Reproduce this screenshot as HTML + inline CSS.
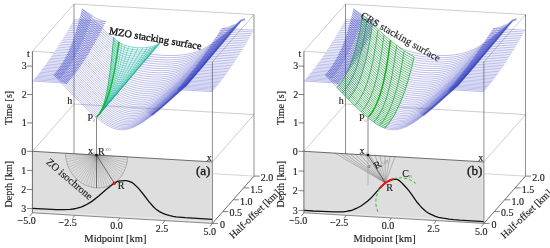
<!DOCTYPE html>
<html><head><meta charset="utf-8"><style>html,body{margin:0;padding:0;background:#fff;overflow:hidden;}svg{display:block;}</style></head>
<body>
<svg width="550" height="248" viewBox="0 0 550 248" font-family="Liberation Serif, serif">
<style>text{stroke:#1a1a1a;stroke-width:0.15px;paint-order:stroke} text.s{stroke:none}</style>
<rect width="550" height="248" fill="#fff"/>
<g stroke="#9a9a9a" stroke-width="0.5" fill="none">
<line x1="32.4" y1="51.3" x2="74.0" y2="4.0" />
<line x1="74.0" y1="4.0" x2="254.0" y2="14.6" />
<line x1="32.4" y1="51.3" x2="54.1" y2="52.6" />
<line x1="254.0" y1="14.6" x2="212.4" y2="61.9" />
<line x1="32.4" y1="151.3" x2="74.0" y2="104.0" />
<line x1="74.0" y1="104.0" x2="254.0" y2="114.6" />
<line x1="254.0" y1="114.6" x2="212.4" y2="161.9" />
</g>
<g stroke="#5e5e5e" stroke-width="0.7" fill="none">
<line x1="74.0" y1="4.0" x2="74.0" y2="153.9" />
<line x1="254.0" y1="14.6" x2="254.0" y2="176.1" />
<line x1="212.4" y1="61.9" x2="212.4" y2="161.9" />
</g>
<g stroke="#3a42c2" stroke-width="0.34" fill="none" stroke-linejoin="round">
<polyline points="32.5,81.0 58.4,82.6 63.8,83.1 67.1,83.5 64.1,82.3 60.7,80.4 57.2,77.9 53.7,74.9 73.3,95.3 81.5,103.7 89.7,111.5 97.0,117.9 100.4,120.6 103.7,123.0 107.0,125.1 109.8,126.6 112.5,127.9 115.3,128.8 118.0,129.5 120.7,129.8 123.2,129.8 126.0,129.5 128.5,128.9 131.4,128.0 134.4,126.8 137.3,125.3 140.4,123.6 143.8,121.4 150.9,116.3 159.1,109.6 166.9,102.8 186.6,85.2 184.2,86.9 181.5,88.4 179.1,89.5 176.9,90.1 180.4,90.0 186.1,90.1 212.3,91.6" />
<polyline points="33.5,79.8 59.4,81.4 64.9,81.9 68.2,82.3 65.2,81.2 61.8,79.2 58.2,76.7 54.7,73.7 74.3,94.1 82.5,102.5 90.7,110.3 98.0,116.7 101.4,119.4 104.7,121.8 108.0,123.9 110.8,125.4 113.6,126.7 116.3,127.6 119.0,128.3 121.7,128.6 124.2,128.6 127.1,128.3 129.6,127.7 132.5,126.8 135.4,125.6 138.4,124.1 141.4,122.4 144.9,120.2 151.9,115.1 160.2,108.4 168.0,101.6 187.7,84.0 185.2,85.7 182.6,87.2 180.1,88.3 178.0,88.9 181.5,88.8 187.2,88.9 213.4,90.4" />
<polyline points="34.6,78.6 60.5,80.2 65.9,80.7 69.2,81.1 66.3,80.0 62.8,78.0 59.2,75.5 55.7,72.5 75.3,92.9 83.5,101.2 91.7,109.1 99.0,115.5 102.4,118.1 105.7,120.5 109.0,122.6 111.8,124.2 114.6,125.4 117.3,126.4 120.1,127.0 122.8,127.3 125.2,127.3 128.1,127.0 130.6,126.5 133.6,125.6 136.5,124.3 139.5,122.9 142.5,121.1 146.0,118.9 153.0,113.8 161.3,107.1 169.1,100.3 188.7,82.8 186.3,84.5 183.6,86.0 181.2,87.1 179.0,87.7 182.5,87.6 188.2,87.7 214.4,89.2" />
<polyline points="35.6,77.4 61.5,79.0 67.0,79.4 70.2,79.9 67.3,78.7 63.8,76.8 60.2,74.2 56.7,71.2 76.3,91.6 84.5,99.9 92.7,107.8 100.0,114.2 103.3,116.8 106.7,119.2 110.0,121.3 112.8,122.8 115.6,124.1 118.3,125.0 121.1,125.7 123.8,126.0 126.3,126.0 129.2,125.7 131.7,125.2 134.7,124.2 137.6,123.0 140.6,121.6 143.6,119.8 147.1,117.6 154.1,112.5 162.4,105.8 170.2,99.1 189.8,81.6 187.3,83.3 184.7,84.8 182.2,85.9 180.1,86.5 183.6,86.3 189.3,86.5 215.4,88.0" />
<polyline points="36.6,76.1 62.5,77.7 68.0,78.2 71.2,78.6 68.3,77.5 64.8,75.5 61.2,73.0 57.7,69.9 77.2,90.3 85.4,98.6 93.6,106.4 100.9,112.8 104.3,115.4 107.6,117.8 110.9,119.9 113.7,121.5 116.5,122.7 119.3,123.7 122.1,124.3 124.9,124.6 127.4,124.6 130.3,124.3 132.8,123.8 135.8,122.9 138.7,121.7 141.7,120.2 144.8,118.5 148.3,116.3 155.3,111.2 163.5,104.5 171.3,97.8 190.9,80.3 188.4,82.0 185.8,83.5 183.3,84.6 181.1,85.2 184.6,85.1 190.3,85.3 216.5,86.7" />
<polyline points="37.7,74.9 63.6,76.4 69.0,76.9 72.3,77.4 69.3,76.2 65.8,74.2 62.2,71.7 58.6,68.6 78.2,88.9 86.3,97.2 95.0,105.5 102.3,111.8 105.6,114.4 109.0,116.7 112.3,118.8 115.1,120.3 118.0,121.5 120.8,122.4 123.6,123.0 125.9,123.2 128.4,123.2 131.4,122.9 133.9,122.4 136.9,121.5 139.9,120.3 142.9,118.8 146.0,117.1 149.4,114.9 156.5,109.8 164.7,103.2 172.5,96.4 192.0,79.0 189.6,80.7 186.9,82.2 184.4,83.3 182.2,83.9 185.6,83.8 191.3,84.0 217.5,85.4" />
<polyline points="38.7,73.6 64.6,75.1 70.1,75.6 73.3,76.1 70.3,74.9 66.8,72.9 63.1,70.3 59.6,67.3 78.6,87.1 87.2,95.8 95.9,104.0 103.1,110.3 106.5,112.9 109.9,115.3 113.2,117.3 116.1,118.8 118.9,120.0 121.7,120.9 124.6,121.5 126.9,121.8 129.5,121.8 132.5,121.5 135.1,120.9 138.1,120.0 141.1,118.8 144.1,117.3 147.2,115.6 150.7,113.4 157.7,108.4 165.9,101.8 173.7,95.1 193.2,77.7 190.7,79.4 188.0,80.9 185.5,82.0 183.3,82.7 186.7,82.5 192.4,82.7 218.6,84.2" />
<polyline points="39.8,72.3 65.7,73.8 71.1,74.3 74.3,74.8 71.2,73.6 67.7,71.6 64.1,69.0 60.5,65.9 79.5,85.7 88.1,94.4 96.7,102.6 104.0,108.8 107.3,111.4 110.7,113.8 114.1,115.8 116.9,117.3 119.8,118.5 122.7,119.4 125.6,120.0 128.0,120.3 130.6,120.3 133.6,120.0 136.2,119.4 139.3,118.5 142.3,117.3 145.4,115.8 148.4,114.1 151.9,111.9 158.9,106.9 167.1,100.3 174.9,93.6 194.3,76.4 191.8,78.1 189.1,79.6 186.6,80.7 184.3,81.3 187.7,81.2 193.4,81.4 219.6,82.8" />
<polyline points="40.8,70.9 66.7,72.5 72.0,73.0 75.3,73.4 72.2,72.2 68.7,70.2 65.0,67.6 61.4,64.5 80.3,84.2 88.9,92.9 97.5,101.0 104.8,107.3 108.1,109.8 111.5,112.2 114.9,114.2 117.8,115.7 120.7,116.9 123.6,117.9 126.6,118.5 129.0,118.7 131.7,118.7 134.8,118.4 137.4,117.9 140.5,117.0 143.6,115.8 146.6,114.3 149.7,112.6 153.2,110.4 160.2,105.4 168.4,98.9 176.1,92.2 195.5,75.0 193.0,76.8 190.3,78.3 187.7,79.4 185.4,80.0 188.8,79.9 194.5,80.1 220.6,81.5" />
<polyline points="41.8,69.6 67.6,71.2 73.1,71.6 76.3,72.1 73.2,70.9 69.6,68.8 65.9,66.2 62.3,63.1 81.2,82.7 89.7,91.3 98.3,99.5 105.5,105.7 108.9,108.2 112.3,110.6 115.7,112.6 118.6,114.1 121.6,115.3 124.6,116.3 127.6,116.9 130.1,117.1 132.8,117.1 135.9,116.8 138.6,116.3 141.7,115.4 144.8,114.2 147.9,112.7 151.0,111.0 154.5,108.9 161.5,103.9 169.7,97.3 177.4,90.7 196.7,73.6 194.1,75.4 191.4,76.9 188.8,78.0 186.5,78.7 189.9,78.6 195.6,78.7 221.7,80.2" />
<polyline points="42.9,68.2 68.6,69.8 74.1,70.3 77.3,70.7 74.1,69.5 70.5,67.4 66.8,64.8 63.1,61.7 81.9,81.2 90.4,89.8 99.0,97.8 106.3,104.0 109.7,106.6 113.1,108.9 116.5,111.0 119.5,112.4 122.5,113.7 125.5,114.6 128.6,115.2 131.1,115.5 133.9,115.5 137.1,115.2 139.8,114.7 143.0,113.8 146.1,112.6 149.2,111.1 152.3,109.4 155.8,107.3 162.8,102.3 171.0,95.8 178.7,89.2 197.9,72.2 195.3,74.0 192.6,75.5 189.9,76.7 187.6,77.3 191.0,77.2 196.7,77.4 222.7,78.8" />
<polyline points="43.9,66.8 69.7,68.4 75.0,68.9 78.3,69.3 75.1,68.1 71.4,66.0 67.7,63.4 64.0,60.2 82.7,79.6 91.2,88.2 99.7,96.2 107.0,102.3 110.4,104.9 113.8,107.2 117.3,109.3 120.3,110.8 123.3,112.0 126.4,112.9 129.5,113.6 132.2,113.8 135.0,113.8 138.3,113.5 141.1,113.0 144.3,112.1 147.4,110.9 150.6,109.4 153.7,107.8 157.2,105.6 164.2,100.7 172.3,94.2 180.4,87.4 199.2,70.7 196.5,72.6 193.7,74.1 191.0,75.3 188.6,75.9 192.0,75.8 197.7,76.0 223.8,77.4" />
<polyline points="45.0,65.4 70.7,67.0 76.1,67.5 79.3,67.9 77.7,67.4 76.0,66.6 72.3,64.6 68.5,61.9 64.8,58.7 83.5,78.0 91.9,86.5 100.4,94.5 107.7,100.6 111.1,103.2 114.5,105.5 118.0,107.5 121.0,109.0 124.1,110.3 127.3,111.2 130.5,111.8 133.2,112.1 136.1,112.1 139.5,111.8 142.3,111.3 145.6,110.4 148.8,109.2 151.9,107.7 155.0,106.1 158.6,103.9 165.6,99.1 173.7,92.6 181.7,85.8 200.4,69.3 197.7,71.1 194.9,72.7 192.1,73.9 189.7,74.5 193.2,74.4 198.9,74.6 224.8,76.0" />
<polyline points="46.0,64.0 71.6,65.6 77.0,66.0 80.3,66.5 77.0,65.2 73.3,63.2 69.4,60.4 65.6,57.2 84.2,76.4 92.6,84.8 101.1,92.8 108.3,98.8 111.7,101.4 115.2,103.7 118.7,105.7 121.8,107.2 124.9,108.5 128.2,109.4 131.5,110.1 134.2,110.4 137.2,110.4 140.2,110.2 143.1,109.7 146.4,108.8 149.7,107.6 152.9,106.2 156.0,104.6 159.5,102.5 166.5,97.7 175.1,91.0 183.1,84.2 201.7,67.8 199.0,69.7 196.1,71.2 193.3,72.4 190.8,73.1 194.2,73.0 199.9,73.2 225.8,74.6" />
<polyline points="47.0,62.6 72.7,64.1 78.0,64.6 81.3,65.0 79.7,64.5 77.9,63.8 74.2,61.7 70.2,58.9 66.4,55.7 84.9,74.8 93.7,83.6 102.2,91.5 106.1,94.7 109.4,97.4 112.9,99.9 116.4,102.2 119.4,103.9 122.5,105.4 125.7,106.7 129.0,107.6 132.4,108.3 135.3,108.6 138.4,108.6 141.4,108.4 144.4,107.9 147.8,107.0 151.1,105.9 154.3,104.5 157.4,102.8 161.0,100.8 164.5,98.5 168.0,96.0 176.5,89.3 184.4,82.6 203.0,66.3 200.2,68.2 197.2,69.8 194.4,71.0 191.9,71.6 195.4,71.5 201.0,71.7 226.9,73.2" />
<polyline points="48.1,61.1 73.7,62.7 79.1,63.1 82.3,63.6 80.7,63.1 78.8,62.3 75.0,60.2 71.0,57.4 67.2,54.1 85.6,73.1 94.4,81.8 102.8,89.7 106.7,92.9 110.1,95.6 113.5,98.1 117.0,100.3 120.1,102.1 123.2,103.6 126.5,104.8 129.9,105.8 133.4,106.5 136.3,106.8 139.5,106.8 142.6,106.6 145.7,106.1 149.1,105.2 152.5,104.1 155.7,102.7 158.9,101.1 162.4,99.0 166.0,96.7 169.4,94.2 177.9,87.6 185.8,80.9 204.3,64.8 201.5,66.7 198.4,68.3 195.6,69.5 193.0,70.2 196.4,70.1 202.1,70.3 227.9,71.7" />
<polyline points="49.1,59.6 74.6,61.2 80.0,61.6 83.2,62.1 81.6,61.6 79.8,60.8 75.9,58.7 71.8,55.9 67.9,52.6 86.2,71.4 95.0,80.1 103.4,87.8 107.3,91.1 110.7,93.7 114.1,96.2 117.6,98.5 121.2,100.5 124.5,101.9 127.8,103.2 130.7,104.0 134.3,104.6 137.4,104.9 140.6,105.0 143.9,104.7 147.0,104.3 150.5,103.4 153.9,102.2 157.2,100.8 160.4,99.2 163.9,97.2 167.4,94.9 170.9,92.5 179.4,85.9 187.3,79.2 205.6,63.2 202.7,65.2 199.7,66.8 196.8,68.0 194.2,68.7 197.6,68.6 203.2,68.8 229.0,70.2" />
<polyline points="50.2,58.2 75.7,59.7 81.0,60.1 84.2,60.6 82.6,60.1 80.7,59.3 76.7,57.1 72.6,54.3 68.7,50.9 86.9,69.6 95.6,78.3 104.0,86.0 107.8,89.2 111.2,91.8 114.7,94.3 118.2,96.6 121.9,98.5 125.2,100.0 128.6,101.3 131.6,102.1 135.3,102.8 138.4,103.1 141.8,103.1 145.1,102.9 148.3,102.4 151.9,101.5 155.3,100.4 158.6,99.0 161.8,97.4 165.4,95.3 168.9,93.1 172.4,90.7 180.8,84.2 188.7,77.5 206.9,61.6 204.0,63.6 200.9,65.3 197.9,66.5 195.3,67.2 198.6,67.1 204.3,67.3 230.0,68.7" />
<polyline points="51.2,56.6 76.7,58.2 82.0,58.6 85.2,59.0 83.5,58.5 81.6,57.7 77.5,55.5 73.4,52.7 69.4,49.3 87.5,67.9 96.2,76.4 104.6,84.1 108.4,87.3 111.8,89.9 115.2,92.4 118.8,94.6 122.5,96.6 125.8,98.1 129.3,99.3 132.4,100.2 136.2,100.9 139.5,101.2 142.9,101.2 146.4,101.0 149.6,100.5 152.8,99.8 156.3,98.7 159.7,97.3 162.9,95.8 166.5,93.8 170.0,91.5 173.5,89.2 181.9,82.7 190.2,75.8 208.2,60.0 205.3,62.0 202.2,63.7 199.1,65.0 196.4,65.7 199.8,65.6 205.4,65.8 231.0,67.2" />
<polyline points="52.2,55.1 77.6,56.7 83.0,57.1 86.2,57.5 84.4,57.0 82.5,56.2 78.3,54.0 74.2,51.1 70.1,47.7 88.1,66.1 96.7,74.6 101.3,78.9 105.6,82.6 109.4,85.7 112.8,88.3 116.3,90.8 119.9,93.0 123.1,94.6 126.5,96.1 130.1,97.4 133.2,98.2 137.1,98.9 140.5,99.2 144.1,99.3 147.6,99.1 151.0,98.6 154.2,97.9 157.8,96.8 161.2,95.4 164.4,93.9 168.1,91.9 171.6,89.7 175.0,87.3 183.4,80.9 191.6,74.1 209.6,58.4 206.6,60.5 203.4,62.2 200.3,63.5 197.5,64.2 200.8,64.1 206.4,64.3 232.1,65.7" />
<polyline points="53.3,53.6 78.6,55.1 83.9,55.5 87.1,56.0 85.4,55.4 83.4,54.6 79.3,52.4 74.9,49.4 70.8,46.0 88.3,63.8 97.3,72.7 101.9,77.0 106.1,80.7 109.9,83.8 113.3,86.4 116.8,88.8 120.4,91.0 123.7,92.7 127.1,94.2 130.8,95.4 134.0,96.3 138.1,97.0 141.5,97.3 145.3,97.4 148.9,97.1 152.4,96.7 155.6,95.9 159.3,94.8 162.7,93.5 166.0,91.9 169.6,90.0 173.1,87.8 176.6,85.4 180.4,82.6 185.0,79.1 193.1,72.3 211.0,56.8 207.9,58.9 204.6,60.7 201.4,61.9 198.6,62.6 202.0,62.5 207.6,62.7 233.1,64.2" />
<polyline points="54.3,52.0 79.6,53.6 84.9,54.0 88.1,54.4 86.3,53.9 84.3,53.0 80.1,50.8 75.7,47.8 71.5,44.3 88.8,62.0 97.8,70.8 102.4,75.0 106.6,78.7 110.4,81.8 113.8,84.4 117.3,86.8 120.9,89.0 124.2,90.6 127.7,92.1 131.5,93.4 134.8,94.3 139.0,95.0 142.6,95.3 146.4,95.4 150.2,95.2 153.7,94.7 157.1,94.0 160.8,92.9 164.2,91.5 167.6,90.0 171.2,88.0 174.7,85.9 178.2,83.5 182.0,80.8 186.5,77.3 195.0,70.2 212.4,55.1 209.3,57.2 205.9,59.1 202.6,60.4 199.7,61.0 203.1,61.0 208.6,61.2 234.2,62.6" />
<polyline points="55.4,50.4 80.6,52.0 85.9,52.4 89.1,52.8 87.2,52.2 85.1,51.4 80.9,49.2 76.4,46.1 72.2,42.6 89.4,60.1 98.3,68.9 102.9,73.1 107.1,76.7 110.9,79.8 114.3,82.4 117.8,84.7 121.5,86.9 124.8,88.6 128.3,90.1 132.2,91.4 135.6,92.3 139.9,93.0 143.6,93.4 147.6,93.4 151.5,93.2 155.1,92.7 158.6,92.0 161.8,91.1 165.3,89.8 168.7,88.3 172.3,86.3 175.9,84.2 179.3,81.9 183.1,79.2 187.7,75.7 196.2,68.7 213.8,53.5 210.6,55.6 207.2,57.4 203.9,58.8 200.9,59.5 204.2,59.4 209.8,59.6 235.2,61.0" />
<polyline points="56.4,48.8 81.5,50.4 86.9,50.8 90.0,51.2 88.2,50.7 86.1,49.8 83.9,48.8 81.6,47.5 77.1,44.4 72.8,40.9 90.3,58.6 99.3,67.3 103.8,71.5 108.0,75.1 111.8,78.2 115.2,80.7 118.8,83.0 122.5,85.2 125.9,86.8 129.5,88.3 133.5,89.5 137.1,90.4 140.8,91.0 144.7,91.3 148.1,91.4 152.1,91.3 155.9,90.8 159.5,90.1 163.3,89.1 166.9,87.8 170.3,86.3 173.9,84.4 177.5,82.3 180.9,80.0 184.7,77.3 189.3,73.8 197.7,66.9 215.2,51.8 212.0,54.0 208.5,55.8 205.1,57.1 202.0,57.9 205.4,57.8 211.0,58.0 236.2,59.4" />
<polyline points="57.4,47.2 82.5,48.8 87.8,49.2 91.0,49.6 89.1,49.0 86.9,48.2 84.6,47.1 82.4,45.8 77.8,42.7 73.4,39.1 90.9,56.7 99.8,65.4 104.3,69.5 108.4,73.1 112.3,76.1 115.7,78.6 119.2,80.9 123.0,83.1 126.4,84.7 130.1,86.2 134.2,87.5 137.8,88.3 141.7,89.0 145.7,89.3 149.3,89.4 153.4,89.3 157.3,88.8 161.0,88.1 164.9,87.1 168.5,85.8 171.9,84.3 175.6,82.4 179.1,80.3 182.6,78.0 186.4,75.3 190.9,71.9 199.3,65.0 216.7,50.1 213.3,52.3 209.8,54.2 206.3,55.5 203.1,56.3 206.5,56.2 212.0,56.4 237.3,57.8" />
<polyline points="58.5,45.6 83.5,47.1 88.7,47.6 91.9,47.9 90.0,47.4 87.9,46.6 85.6,45.5 83.3,44.2 78.6,41.1 74.1,37.3 91.4,54.8 100.2,63.4 104.7,67.5 108.9,71.0 112.7,74.0 116.1,76.5 119.7,78.9 123.5,81.0 126.9,82.7 130.7,84.1 134.8,85.4 138.6,86.3 142.6,86.9 146.8,87.3 150.5,87.4 154.8,87.2 158.8,86.8 162.5,86.1 165.9,85.2 169.6,84.0 173.0,82.5 176.7,80.6 180.3,78.6 184.2,76.1 188.0,73.4 192.5,70.0 200.9,63.1 218.1,48.3 214.6,50.7 211.0,52.6 207.4,53.9 204.3,54.6 207.6,54.6 213.2,54.8 238.3,56.2" />
<polyline points="59.5,44.0 84.5,45.5 89.7,45.9 92.9,46.3 91.0,45.7 88.7,44.9 86.3,43.8 84.0,42.5 79.3,39.3 74.7,35.5 91.9,52.9 101.1,61.8 105.6,65.8 109.8,69.4 113.6,72.3 117.0,74.8 120.6,77.1 124.5,79.2 128.0,80.8 131.9,82.3 135.5,83.3 139.4,84.2 143.5,84.8 147.8,85.2 151.6,85.3 156.1,85.2 160.2,84.7 164.0,84.1 167.5,83.2 171.2,81.9 174.7,80.5 178.4,78.6 182.0,76.6 185.9,74.1 189.6,71.4 194.1,68.0 202.8,61.0 219.6,46.6 216.1,48.9 212.3,50.9 208.7,52.3 205.4,53.0 208.7,53.0 214.2,53.1 239.4,54.6" />
<polyline points="60.6,42.3 85.4,43.8 93.8,44.6 91.8,44.1 89.5,43.2 87.1,42.1 84.8,40.8 80.0,37.6 77.5,35.7 75.3,33.7 92.3,50.9 101.5,59.8 106.0,63.8 110.2,67.3 114.0,70.2 117.4,72.7 121.1,74.9 124.9,77.0 128.5,78.7 132.5,80.2 136.1,81.2 140.1,82.1 144.4,82.8 148.9,83.2 152.8,83.3 157.4,83.1 161.6,82.7 165.5,82.0 169.0,81.1 172.8,79.9 176.3,78.4 180.1,76.6 183.6,74.5 187.5,72.1 191.3,69.4 195.7,66.1 204.4,59.1 221.0,44.8 217.5,47.2 213.7,49.2 209.9,50.6 206.5,51.3 209.9,51.3 215.4,51.5 240.4,52.9" />
<polyline points="61.6,40.7 86.4,42.2 94.8,42.9 92.7,42.4 90.3,41.5 87.9,40.3 85.5,39.0 80.6,35.8 78.1,33.9 75.9,31.9 92.8,48.9 102.0,57.7 106.4,61.7 110.6,65.2 114.4,68.1 117.8,70.5 121.5,72.8 125.4,74.9 129.0,76.6 133.0,78.0 136.7,79.1 140.8,80.0 145.3,80.7 149.9,81.1 154.0,81.2 158.8,81.1 162.4,80.7 166.4,80.1 170.1,79.2 173.9,78.0 177.5,76.6 181.3,74.8 184.9,72.8 188.8,70.3 192.5,67.7 197.0,64.4 205.7,57.4 222.5,43.1 219.0,45.4 215.0,47.5 211.1,48.9 207.7,49.7 211.0,49.6 216.5,49.8 241.4,51.2" />
<polyline points="62.6,39.0 87.3,40.5 95.7,41.2 93.6,40.7 91.2,39.8 88.8,38.6 86.2,37.2 83.7,35.7 81.1,33.9 76.4,30.0 93.3,46.9 102.4,55.7 106.8,59.6 111.0,63.1 114.8,66.0 118.2,68.4 121.9,70.7 125.8,72.8 129.5,74.4 133.6,75.9 137.4,77.0 141.6,77.9 146.1,78.6 151.0,79.0 155.2,79.1 160.1,79.0 163.9,78.6 168.0,78.0 171.7,77.1 175.6,75.9 179.1,74.5 183.0,72.7 186.6,70.7 190.5,68.3 194.2,65.7 198.7,62.4 207.3,55.5 224.0,41.3 220.3,43.8 216.3,45.8 212.4,47.2 208.8,48.0 212.1,48.0 217.6,48.2 242.5,49.6" />
<polyline points="63.7,37.3 88.4,38.8 96.7,39.5 94.6,39.0 92.2,38.1 89.7,37.0 87.0,35.6 84.5,34.0 81.9,32.2 79.4,30.2 77.0,28.2 93.7,44.9 102.8,53.6 107.2,57.5 111.4,60.9 115.1,63.8 119.1,66.6 122.8,68.8 126.8,70.9 130.6,72.5 134.1,73.7 138.0,74.8 142.3,75.7 147.0,76.4 152.0,76.9 156.4,77.0 161.5,76.9 165.3,76.5 169.5,75.9 173.3,75.0 177.2,73.8 180.8,72.4 184.7,70.6 188.3,68.6 192.2,66.2 195.9,63.7 200.3,60.4 208.9,53.6 225.6,39.5 221.7,42.0 217.6,44.0 213.6,45.5 210.0,46.3 213.3,46.3 218.8,46.5 243.5,47.9" />
<polyline points="64.7,35.6 89.3,37.1 97.6,37.8 95.4,37.2 92.9,36.3 90.4,35.2 87.7,33.8 85.2,32.2 82.5,30.4 79.9,28.4 77.5,26.3 94.1,42.9 103.2,51.5 107.6,55.4 111.7,58.8 115.5,61.7 119.5,64.4 123.2,66.6 127.2,68.7 131.0,70.3 134.6,71.6 138.5,72.7 143.0,73.6 147.9,74.3 153.0,74.8 157.6,74.9 162.8,74.8 166.8,74.4 171.1,73.8 174.9,72.9 178.9,71.7 182.5,70.3 186.4,68.5 190.0,66.6 193.9,64.2 197.6,61.7 202.0,58.4 210.6,51.6 227.1,37.6 223.2,40.2 219.0,42.3 214.9,43.8 212.9,44.3 211.1,44.6 214.4,44.5 219.8,44.8 244.6,46.2" />
<polyline points="65.8,33.8 90.2,35.3 98.6,36.1 96.3,35.5 93.7,34.5 91.1,33.4 88.4,31.9 85.8,30.4 83.1,28.5 80.5,26.5 78.1,24.4 94.5,40.9 103.6,49.4 108.0,53.3 112.1,56.7 115.9,59.5 119.8,62.2 123.6,64.5 127.6,66.5 131.5,68.1 135.1,69.4 139.1,70.5 143.7,71.4 148.7,72.2 154.1,72.6 158.8,72.8 163.4,72.7 167.5,72.4 172.0,71.8 175.9,71.0 180.0,69.8 183.7,68.4 187.6,66.7 191.3,64.7 195.2,62.4 198.9,59.9 203.3,56.7 212.2,49.6 228.6,35.8 224.6,38.4 220.4,40.5 216.2,42.0 214.1,42.5 212.3,42.8 215.6,42.8 221.0,43.0 245.6,44.4" />
<polyline points="66.8,32.1 91.2,33.6 99.5,34.3 97.2,33.7 94.5,32.7 91.8,31.6 89.1,30.1 86.4,28.5 83.7,26.7 81.1,24.6 78.6,22.5 95.0,38.8 104.4,47.7 108.8,51.5 112.9,54.9 116.7,57.7 120.7,60.4 124.5,62.6 128.6,64.6 132.6,66.2 136.3,67.4 140.6,68.5 145.4,69.4 150.7,70.1 155.1,70.5 160.1,70.6 164.7,70.6 169.0,70.3 173.5,69.7 177.5,68.8 181.7,67.7 185.4,66.3 189.3,64.6 193.0,62.6 196.9,60.3 200.6,57.8 205.0,54.7 213.9,47.6 230.2,34.0 226.1,36.6 221.7,38.8 217.4,40.3 215.3,40.8 213.4,41.1 222.2,41.3 246.6,42.7" />
<polyline points="67.8,30.4 92.1,31.8 100.5,32.6 98.1,32.0 95.4,31.0 92.7,29.8 89.9,28.4 87.0,26.7 84.3,24.8 81.6,22.7 79.1,20.6 95.4,36.7 104.7,45.5 109.1,49.4 113.2,52.7 117.0,55.5 121.1,58.2 124.8,60.4 129.0,62.4 133.0,64.0 136.8,65.2 141.2,66.3 146.1,67.3 151.6,68.0 156.2,68.3 161.3,68.5 166.1,68.4 170.5,68.1 175.1,67.5 179.2,66.7 183.4,65.5 187.1,64.2 191.1,62.5 194.7,60.5 198.6,58.2 202.4,55.8 206.7,52.6 215.6,45.6 231.7,32.1 227.6,34.8 223.1,37.0 218.6,38.6 216.5,39.1 214.6,39.3 223.2,39.6 247.7,40.9" />
<polyline points="68.9,28.6 93.2,30.1 101.4,30.8 98.9,30.2 96.1,29.2 93.4,28.0 90.6,26.5 87.7,24.8 84.9,22.9 82.1,20.7 79.6,18.6 95.8,34.7 105.1,43.4 109.5,47.2 113.6,50.5 117.4,53.3 121.4,56.0 125.2,58.1 129.4,60.2 133.4,61.8 137.3,63.0 141.7,64.1 146.8,65.1 152.5,65.8 157.2,66.2 162.5,66.4 167.5,66.3 172.0,66.0 176.7,65.4 180.9,64.6 184.5,63.6 188.3,62.3 192.3,60.6 196.0,58.7 199.9,56.4 204.1,53.7 208.5,50.5 217.3,43.6 233.3,30.2 229.1,33.0 224.5,35.2 222.2,36.1 219.9,36.8 217.6,37.3 215.7,37.6 224.4,37.8 248.7,39.2" />
<polyline points="69.9,26.8 94.1,28.3 102.3,29.0 99.9,28.4 97.0,27.4 94.1,26.1 91.2,24.7 88.3,22.9 85.4,21.0 82.6,18.8 80.1,16.7 96.5,32.9 105.9,41.6 110.2,45.4 114.4,48.7 118.2,51.4 122.2,54.1 126.1,56.2 130.4,58.2 134.6,59.8 138.6,61.0 143.3,62.1 147.5,62.9 153.3,63.6 158.3,64.0 163.7,64.2 168.9,64.1 173.5,63.8 178.3,63.2 182.5,62.4 186.2,61.4 190.1,60.1 194.1,58.4 197.8,56.6 201.7,54.3 205.8,51.6 210.2,48.5 219.0,41.6 234.9,28.3 230.6,31.1 225.9,33.4 223.6,34.3 221.2,35.0 218.9,35.5 216.9,35.8 225.6,36.0 249.8,37.4" />
<polyline points="71.0,25.0 95.0,26.5 103.3,27.2 100.7,26.6 97.8,25.6 94.8,24.3 91.9,22.8 88.8,21.0 86.0,19.1 83.1,16.9 80.6,14.7 96.9,30.8 106.2,39.5 110.6,43.2 114.7,46.5 118.5,49.2 122.6,51.8 126.4,54.0 130.8,56.0 135.0,57.6 139.1,58.8 143.8,59.9 148.2,60.7 154.2,61.4 159.3,61.8 165.0,62.0 170.3,62.0 175.0,61.7 179.9,61.1 184.2,60.3 187.9,59.3 191.8,58.0 195.8,56.3 199.5,54.4 203.4,52.2 207.6,49.5 211.9,46.4 220.7,39.6 236.5,26.4 234.4,27.9 232.1,29.2 229.6,30.5 227.2,31.6 224.9,32.5 222.4,33.2 220.1,33.7 218.0,34.0 226.6,34.2 250.8,35.6" />
<polyline points="72.0,23.2 96.0,24.7 104.2,25.4 101.6,24.7 98.7,23.8 95.6,22.5 92.7,21.0 89.6,19.2 86.7,17.3 83.8,15.0 81.1,12.8 97.3,28.7 106.5,37.3 110.9,41.0 115.0,44.3 118.8,47.0 122.9,49.6 126.8,51.7 131.1,53.7 135.4,55.3 139.6,56.6 144.4,57.7 148.8,58.5 155.1,59.3 160.4,59.7 166.2,59.9 171.7,59.8 176.5,59.5 180.8,59.0 185.2,58.2 189.1,57.3 193.0,56.0 197.1,54.4 200.8,52.5 204.8,50.3 208.9,47.6 213.3,44.6 222.4,37.5 238.1,24.5 236.0,26.0 233.6,27.4 231.1,28.7 228.7,29.8 226.3,30.6 223.8,31.4 221.4,31.9 219.2,32.2 227.8,32.4 251.8,33.8" />
<polyline points="73.0,21.4 96.9,22.9 105.1,23.5 102.4,22.9 99.4,21.9 96.3,20.6 93.3,19.1 90.2,17.3 87.3,15.3 84.3,13.1 81.5,10.8 97.6,26.6 106.8,35.1 111.2,38.8 115.3,42.0 119.1,44.8 123.2,47.4 127.1,49.5 131.5,51.5 135.8,53.1 140.0,54.3 144.9,55.5 149.5,56.3 155.9,57.1 161.4,57.5 167.5,57.7 173.1,57.6 178.0,57.3 182.4,56.9 186.9,56.1 190.8,55.1 194.8,53.8 198.9,52.2 202.6,50.4 206.6,48.2 210.7,45.5 215.1,42.5 224.1,35.5 239.7,22.6 237.5,24.1 235.1,25.5 232.6,26.8 230.1,27.9 227.5,28.9 225.0,29.6 222.6,30.1 220.3,30.4 228.9,30.6 252.9,32.0" />
<polyline points="74.1,19.6 97.9,21.0 106.1,21.7 103.2,21.0 100.1,20.0 97.0,18.7 93.9,17.2 90.8,15.3 87.8,13.4 84.8,11.1 82.0,8.8 98.0,24.4 107.6,33.3 111.9,37.0 116.0,40.2 119.9,42.9 124.0,45.4 128.0,47.5 131.8,49.2 136.2,50.8 140.5,52.1 145.5,53.2 150.2,54.0 156.8,54.9 162.5,55.3 168.7,55.5 174.5,55.5 179.6,55.2 184.0,54.7 188.6,53.9 192.5,53.0 196.5,51.7 200.6,50.0 204.4,48.2 208.3,46.0 212.5,43.4 216.8,40.4 225.8,33.4 241.3,20.7 239.1,22.2 236.5,23.7 234.0,25.0 231.4,26.1 228.8,27.0 226.2,27.8 223.7,28.3 221.5,28.6 230.0,28.8 253.9,30.2" />
</g>
<polyline points="152.2,115.2 157.4,111.0 163.7,105.6 186.6,85.2 203.0,66.3 228.6,35.8" stroke="#3a4cc4" stroke-width="9" fill="none" stroke-opacity="0.10" stroke-linecap="butt" transform="translate(-4.2,-1.6)"/>
<polyline points="152.2,115.2 157.4,111.0 163.7,105.6 186.6,85.2 205.6,63.2 236.5,26.4" stroke="#3a4cc4" stroke-width="5" fill="none" stroke-opacity="0.14" stroke-linecap="butt" transform="translate(-2.2,-0.8)"/>
<polyline points="152.2,115.2 157.4,111.0 163.7,105.6 186.6,85.2 206.9,61.6 241.3,20.7 245.5,19.3" stroke="#2b3db8" stroke-width="2.0" fill="none" stroke-opacity="0.5" stroke-linecap="butt" transform="translate(-0.4,-0.2)"/>
<polygon points="53.7,74.9 54.7,73.7 55.7,72.5 56.7,71.2 57.7,69.9 58.6,68.6 59.6,67.3 60.5,65.9 61.4,64.5 62.3,63.1 63.1,61.7 64.0,60.2 64.8,58.7 65.6,57.2 66.4,55.7 67.2,54.1 67.9,52.6 68.7,50.9 69.4,49.3 70.1,47.7 70.8,46.0 71.5,44.3 72.2,42.6 72.8,40.9 73.4,39.1 74.1,37.3 74.7,35.5 75.3,33.7 75.9,31.9 76.4,30.0 77.0,28.2 77.5,26.3 78.1,24.4 78.6,22.5 79.1,20.6 79.6,18.6 80.1,16.7 80.6,14.7 81.1,12.8 81.5,10.8 82.0,8.8 92.8,14.6 92.2,16.5 91.5,18.4 90.8,20.3 90.1,22.2 89.4,24.1 88.7,26.0 88.0,27.8 87.3,29.7 86.6,31.5 85.9,33.3 85.1,35.1 84.4,36.9 83.6,38.6 82.9,40.4 82.1,42.1 81.3,43.8 80.6,45.5 79.8,47.2 79.0,48.8 78.2,50.5 77.3,52.1 76.5,53.7 75.7,55.3 74.8,56.8 74.0,58.4 73.1,59.9 72.2,61.4 71.3,62.9 70.4,64.3 69.5,65.7 68.6,67.2 67.6,68.5 66.7,69.9 65.7,71.2 64.8,72.6 63.8,73.8 62.8,75.1 61.8,76.4 60.8,77.6 59.7,78.8" fill="#2b3db8" fill-opacity="0.16" stroke="none"/>
<polygon points="96.5,117.5 98.1,115.5 99.6,113.2 102.1,108.2 103.2,105.5 104.7,101.0 106.6,93.1 108.5,83.0 110.3,70.6 111.9,55.9 113.7,37.2 114.9,38.7 117.5,41.1 120.0,42.9 123.7,44.8 127.5,46.1 131.2,46.9 135.0,47.5 138.7,47.8 143.7,47.8 147.5,47.5 151.2,46.8 153.7,46.1 156.2,45.0 158.7,43.6 161.2,41.5 162.5,40.1 117.0,93.8 96.5,117.5" fill="#fff" stroke="none"/>
<g stroke="#12a8a6" stroke-width="0.5" fill="none">
<polyline points="97.5,116.3 97.6,116.3" />
<polyline points="98.5,115.0 98.7,115.0" />
<polyline points="99.4,113.6 99.6,113.8 99.9,113.7" />
<polyline points="100.2,112.2 100.6,112.5 101.1,112.3" />
<polyline points="101.0,110.7 101.3,111.0 101.7,111.2 102.0,111.1 102.4,110.8" />
<polyline points="101.8,109.1 102.3,109.6 102.8,109.8 103.3,109.6 103.7,109.2" />
<polyline points="102.5,107.5 103.1,108.1 103.7,108.4 104.4,108.2 105.1,107.6" />
<polyline points="103.1,105.8 104.0,106.6 104.9,106.9 105.7,106.7 106.5,106.0" />
<polyline points="103.7,104.0 104.8,105.1 105.9,105.4 106.5,105.4 107.0,105.1 108.0,104.3" />
<polyline points="104.3,102.2 105.5,103.4 106.2,103.8 106.8,103.9 107.5,103.9 108.2,103.6 108.8,103.2 109.5,102.5" />
<polyline points="104.9,100.4 105.6,101.3 106.4,101.9 107.2,102.2 108.0,102.4 108.8,102.3 109.6,102.0 110.4,101.4 111.0,100.7" />
<polyline points="105.4,98.5 106.3,99.5 107.2,100.2 108.1,100.6 109.1,100.8 110.0,100.7 110.9,100.3 111.8,99.7 112.6,98.9" />
<polyline points="105.9,96.5 106.7,97.5 107.8,98.4 108.8,98.9 109.9,99.2 111.2,99.1 112.3,98.7 113.3,97.9 114.2,97.0" />
<polyline points="106.3,94.6 107.3,95.7 108.5,96.7 109.7,97.3 110.9,97.5 112.4,97.4 113.6,97.0 114.8,96.1 115.8,95.1" />
<polyline points="106.7,92.6 107.8,93.8 109.2,94.9 110.6,95.6 112.0,95.9 113.6,95.8 115.0,95.3 116.4,94.3 117.4,93.2" />
<polyline points="107.2,90.5 108.4,91.9 109.9,93.1 111.5,93.9 113.3,94.2 114.8,94.1 116.4,93.5 117.9,92.5 119.1,91.2" />
<polyline points="107.6,88.5 108.9,90.0 110.6,91.3 112.3,92.1 114.3,92.5 116.0,92.3 117.7,91.8 119.4,90.6 120.8,89.2" />
<polyline points="107.9,86.4 109.4,88.1 111.3,89.5 113.2,90.4 115.0,90.7 117.3,90.6 119.1,90.0 121.0,88.8 122.5,87.2" />
<polyline points="108.3,84.3 109.9,86.1 112.0,87.7 114.0,88.6 116.1,89.0 117.3,89.0 118.5,88.8 120.6,88.2 122.6,86.9 124.2,85.2" />
<polyline points="108.6,82.1 110.4,84.1 112.6,85.8 114.9,86.7 116.2,87.1 117.5,87.2 119.7,87.0 122.0,86.3 123.3,85.6 124.2,85.0 126.0,83.2" />
<polyline points="109.0,80.0 110.9,82.2 111.8,83.0 113.3,83.9 115.7,84.9 117.1,85.2 118.6,85.4 120.0,85.3 121.5,85.1 123.9,84.3 125.8,83.0 127.7,81.1" />
<polyline points="109.3,77.8 111.3,80.1 112.4,81.0 113.9,82.0 116.5,83.0 118.1,83.4 119.6,83.5 121.2,83.5 122.7,83.3 125.3,82.4 127.4,81.1 128.4,80.2 129.5,79.0" />
<polyline points="109.6,75.7 110.7,77.0 111.8,78.1 114.0,79.7 115.1,80.3 116.8,81.0 118.5,81.4 120.1,81.7 121.8,81.7 123.5,81.5 126.3,80.7 127.9,79.9 129.0,79.1 130.1,78.2 131.3,76.9" />
<polyline points="109.9,73.5 111.1,74.9 112.3,76.1 113.4,77.0 115.2,78.1 116.4,78.7 118.2,79.3 120.0,79.6 121.8,79.8 123.5,79.8 125.3,79.5 127.1,79.1 128.3,78.6 130.7,77.2 131.9,76.1 133.0,74.8" />
<polyline points="110.2,71.3 111.4,72.8 112.7,74.0 114.0,75.0 115.9,76.1 117.1,76.7 119.0,77.4 120.9,77.7 122.8,77.9 124.7,77.9 126.6,77.7 128.5,77.2 129.8,76.7 131.0,76.0 132.3,75.2 133.6,74.1 134.8,72.7" />
<polyline points="110.4,69.1 111.8,70.7 113.1,72.0 114.5,73.0 116.5,74.2 117.8,74.8 119.8,75.4 121.9,75.8 123.9,76.0 125.9,76.0 127.9,75.7 129.9,75.2 131.3,74.7 132.6,74.1 133.9,73.2 135.3,72.1 136.6,70.6" />
<polyline points="110.7,66.8 112.1,68.5 113.6,69.9 115.0,71.0 117.1,72.2 118.5,72.8 120.7,73.5 122.8,73.9 124.9,74.1 127.1,74.1 129.2,73.8 131.3,73.3 132.8,72.8 134.2,72.1 135.6,71.2 137.0,70.0 138.4,68.5" />
<polyline points="111.0,64.6 112.5,66.4 114.0,67.8 115.5,68.9 117.0,69.8 118.5,70.5 120.7,71.3 123.0,71.8 125.2,72.1 127.5,72.2 129.7,72.0 132.0,71.6 134.3,70.8 135.8,70.1 137.3,69.2 138.8,67.9 140.3,66.3" />
<polyline points="111.2,62.3 112.8,64.2 114.4,65.7 116.0,66.8 117.6,67.8 119.9,68.8 122.3,69.5 124.7,70.0 127.1,70.2 129.4,70.2 131.8,69.9 134.2,69.4 135.8,68.8 137.3,68.1 138.9,67.1 140.5,65.9 142.1,64.2" />
<polyline points="111.5,60.1 113.1,62.1 114.8,63.6 116.5,64.8 118.1,65.7 119.8,66.5 122.3,67.3 124.8,67.9 127.3,68.2 129.8,68.2 132.3,68.1 134.8,67.6 137.3,66.9 138.9,66.1 140.6,65.1 142.3,63.8 143.9,62.0" />
<polyline points="111.7,57.8 113.5,59.9 115.2,61.5 117.0,62.7 118.7,63.7 120.4,64.4 123.1,65.3 125.7,65.9 128.3,66.2 130.9,66.3 133.5,66.1 136.2,65.6 138.8,64.9 140.5,64.1 142.3,63.1 144.0,61.7 145.8,59.8" />
<polyline points="112.0,55.6 113.8,57.7 115.6,59.3 117.4,60.6 119.3,61.6 122.0,62.7 124.8,63.5 127.5,64.0 130.2,64.2 133.0,64.2 135.7,64.0 138.5,63.4 140.3,62.8 142.1,62.1 143.9,61.0 145.8,59.6 147.6,57.7" />
<polyline points="112.2,53.3 114.1,55.5 116.0,57.2 117.9,58.5 119.8,59.5 121.7,60.3 124.6,61.2 127.5,61.8 130.3,62.2 133.2,62.3 136.1,62.1 138.9,61.6 141.8,60.8 143.7,60.0 145.6,58.9 147.5,57.5 149.5,55.5" />
<polyline points="112.4,51.0 114.4,53.3 116.4,55.1 118.4,56.4 120.4,57.5 123.4,58.6 126.4,59.4 129.4,59.9 132.4,60.2 135.3,60.2 138.3,60.0 141.3,59.4 143.3,58.8 145.3,58.0 147.3,56.9 149.3,55.4 151.3,53.3" />
<polyline points="112.6,48.7 114.7,51.1 116.8,52.9 118.9,54.3 120.9,55.4 124.1,56.6 127.2,57.4 130.3,57.9 133.4,58.2 136.5,58.2 139.7,57.9 142.8,57.4 144.8,56.8 146.9,55.9 149.0,54.8 151.1,53.3 153.2,51.1" />
<polyline points="112.9,46.4 115.0,48.9 117.2,50.8 119.3,52.2 121.5,53.3 123.7,54.1 126.9,55.1 130.2,55.7 133.4,56.0 136.6,56.2 139.9,56.0 143.1,55.6 146.4,54.7 148.5,53.9 150.7,52.7 152.9,51.1 155.0,48.9" />
<polyline points="113.1,44.1 115.3,46.7 117.6,48.6 119.8,50.0 122.1,51.1 125.4,52.4 128.8,53.2 132.2,53.8 135.5,54.0 138.9,54.1 142.3,53.8 145.7,53.3 147.9,52.7 150.1,51.8 152.4,50.6 154.6,49.0 156.9,46.7" />
<polyline points="113.3,41.8 114.4,43.3 116.8,45.5 119.1,47.2 122.6,49.0 126.1,50.3 129.6,51.1 133.1,51.7 136.6,52.0 140.1,52.0 143.6,51.8 147.1,51.2 150.6,50.2 152.9,49.2 155.3,47.8 157.6,45.8 158.8,44.5" />
<polyline points="113.5,39.5 114.7,41.0 117.1,43.3 119.5,45.1 122.0,46.4 124.4,47.4 128.0,48.5 131.6,49.3 136.5,49.8 140.1,50.0 143.7,49.8 147.3,49.4 151.0,48.5 154.6,47.1 157.0,45.7 159.4,43.6 160.6,42.3" />
<polyline points="113.7,37.2 114.9,38.7 117.5,41.1 120.0,42.9 123.7,44.8 127.5,46.1 131.2,46.9 135.0,47.5 138.7,47.8 143.7,47.8 147.5,47.5 151.2,46.8 153.7,46.1 156.2,45.0 158.7,43.6 161.2,41.5 162.5,40.1" />
</g>
<g stroke="#17b096" stroke-width="0.45" fill="none">
<polyline points="96.5,117.5 116.9,93.8 161.4,41.3" />
<polyline points="96.5,117.5 114.3,96.8 160.1,42.5" />
<polyline points="96.5,117.5 111.8,99.6 158.5,43.7" />
<polyline points="96.5,117.5 102.6,110.4 110.5,101.0 156.6,44.9" />
<polyline points="96.5,117.5 102.5,110.5 110.1,101.2 154.2,45.9" />
<polyline points="96.5,117.5 103.2,109.6 111.4,99.1 151.2,46.8" />
<polyline points="96.5,117.5 103.9,108.6 112.6,97.1 122.0,83.9 147.5,47.5" />
<polyline points="96.5,117.5 100.8,112.4 105.2,106.7 109.7,100.4 114.3,93.7 125.4,76.4 143.0,47.8" />
<polyline points="96.5,117.5 100.7,112.4 105.7,105.7 109.9,99.4 114.8,91.4 119.8,82.8 125.4,72.5 131.8,60.4 138.1,47.8" />
<polyline points="96.5,117.5 100.7,112.4 105.4,105.7 110.0,98.2 114.5,90.1 118.8,81.4 123.6,70.9 128.2,60.0 133.2,47.3" />
<polyline points="96.5,117.5 100.6,112.4 102.6,109.6 105.2,105.6 109.5,98.0 113.5,89.8 117.2,81.0 121.2,70.4 124.9,59.3 128.7,46.4" />
<polyline points="96.5,117.5 98.6,115.0 100.6,112.4 102.5,109.5 105.0,105.5 106.7,102.3 108.9,97.8 112.5,89.4 115.7,80.5 119.1,69.7 122.0,58.4 125.0,45.3" />
<polyline points="96.5,117.5 98.6,115.0 100.5,112.3 102.4,109.5 104.7,105.4 107.9,98.7 109.3,95.2 111.2,90.2 114.0,81.1 116.9,70.2 119.6,57.3 122.0,44.0" />
<polyline points="96.5,117.5 98.6,115.0 100.5,112.3 102.3,109.4 104.0,106.3 105.5,103.0 107.0,99.6 108.3,96.0 110.0,91.0 112.5,81.8 115.0,70.7 117.4,57.6 119.6,42.7" />
<polyline points="96.5,117.5 97.9,115.9 99.8,113.2 101.6,110.3 103.2,107.2 104.7,103.9 106.1,100.4 107.4,96.8 108.9,91.7 111.2,82.4 113.4,71.1 115.5,57.9 117.7,41.3" />
<polyline points="96.5,117.5 97.9,115.9 99.8,113.2 101.5,110.2 103.1,107.0 104.5,103.7 105.8,100.1 108.0,92.5 110.1,83.0 112.1,71.6 114.2,56.7 116.1,39.9" />
<polyline points="96.5,117.5 97.9,115.8 99.8,113.1 100.9,111.1 102.4,108.0 103.8,104.6 105.1,101.0 107.2,93.3 109.1,83.6 111.2,70.6 113.0,55.5 114.8,38.6" />
</g>
<g stroke="#18b040" stroke-width="0.8" fill="none">
<polyline points="96.5,117.5 97.9,115.8 99.7,113.1 100.8,111.1 102.3,107.8 103.6,104.3 104.8,100.6 106.7,92.7 108.5,82.8 110.2,71.1 111.9,55.9 113.7,37.2" />
</g>
<g stroke="#10b820" stroke-width="1.3" fill="none">
<polyline points="96.5,117.5 98.6,115.0 100.5,112.3 102.2,109.3 103.9,106.2 105.4,102.9 106.8,99.5 108.1,95.8 109.7,90.8 112.1,81.5 114.5,70.3 116.7,57.2 118.9,42.2" />
</g>
<polygon points="32.4,151.3 212.4,161.9 212.4,223.4 32.4,212.8" fill="#dedede" stroke="none"/>
<line x1="32.4" y1="211.2" x2="212.4" y2="221.8" stroke="#ececec" stroke-width="0.9"/>
<line x1="211.1" y1="162.4" x2="211.1" y2="221.4" stroke="#ececec" stroke-width="0.8"/>
<g stroke="#8c8c8c" stroke-width="0.38" fill="none">
<line x1="96.5" y1="155.1" x2="65.5" y2="153.3" />
<line x1="96.5" y1="155.1" x2="65.7" y2="156.1" />
<line x1="96.5" y1="155.1" x2="66.0" y2="159.0" />
<line x1="96.5" y1="155.1" x2="66.6" y2="161.8" />
<line x1="96.5" y1="155.1" x2="67.4" y2="164.6" />
<line x1="96.5" y1="155.1" x2="68.4" y2="167.3" />
<line x1="96.5" y1="155.1" x2="69.7" y2="169.9" />
<line x1="96.5" y1="155.1" x2="71.1" y2="172.4" />
<line x1="96.5" y1="155.1" x2="72.8" y2="174.8" />
<line x1="96.5" y1="155.1" x2="74.6" y2="177.0" />
<line x1="96.5" y1="155.1" x2="76.6" y2="179.1" />
<line x1="96.5" y1="155.1" x2="78.7" y2="180.9" />
<line x1="96.5" y1="155.1" x2="81.0" y2="182.6" />
<line x1="96.5" y1="155.1" x2="83.4" y2="184.1" />
<line x1="96.5" y1="155.1" x2="85.9" y2="185.3" />
<line x1="96.5" y1="155.1" x2="88.5" y2="186.3" />
<line x1="96.5" y1="155.1" x2="91.1" y2="187.1" />
<line x1="96.5" y1="155.1" x2="93.8" y2="187.6" />
<line x1="96.5" y1="155.1" x2="96.5" y2="187.9" />
<line x1="96.5" y1="155.1" x2="99.2" y2="188.0" />
<line x1="96.5" y1="155.1" x2="101.9" y2="187.7" />
<line x1="96.5" y1="155.1" x2="104.5" y2="187.3" />
<line x1="96.5" y1="155.1" x2="107.1" y2="186.6" />
<line x1="96.5" y1="155.1" x2="109.6" y2="185.6" />
<line x1="96.5" y1="155.1" x2="112.0" y2="184.4" />
<line x1="96.5" y1="155.1" x2="114.3" y2="183.0" />
<line x1="96.5" y1="155.1" x2="116.4" y2="181.4" />
<line x1="96.5" y1="155.1" x2="118.4" y2="179.6" />
<line x1="96.5" y1="155.1" x2="120.2" y2="177.6" />
<line x1="96.5" y1="155.1" x2="121.9" y2="175.4" />
<line x1="96.5" y1="155.1" x2="123.3" y2="173.1" />
<line x1="96.5" y1="155.1" x2="124.6" y2="170.6" />
<line x1="96.5" y1="155.1" x2="125.6" y2="168.0" />
<line x1="96.5" y1="155.1" x2="126.4" y2="165.3" />
<line x1="96.5" y1="155.1" x2="127.0" y2="162.6" />
<line x1="96.5" y1="155.1" x2="127.3" y2="159.8" />
<line x1="96.5" y1="155.1" x2="127.5" y2="156.9" />
</g>
<polyline points="65.5,153.3 65.6,155.0 65.9,158.4 66.6,161.8 67.6,165.1 68.9,168.4 70.5,171.4 72.4,174.3 74.6,177.0 77.0,179.5 79.6,181.6 82.4,183.5 85.4,185.1 88.5,186.3 91.7,187.2 93.3,187.6 96.5,187.9 99.7,187.9 102.9,187.6 106.1,186.9 109.1,185.8 112.0,184.4 113.4,183.6 116.0,181.8 118.4,179.6 120.6,177.2 122.5,174.5 124.1,171.6 125.4,168.5 126.4,165.3 127.1,162.0 127.4,158.6 127.5,156.9" stroke="#8a8a8a" stroke-width="0.6" fill="none"/>
<line x1="96.5" y1="155.1" x2="96.5" y2="187.9" stroke="#333" stroke-width="0.6"/>
<polyline points="32.4,208.3 56.6,209.6 62.7,209.7 70.2,209.3 73.2,209.0 76.3,208.4 80.8,207.2 82.3,206.6 85.3,205.2 89.9,202.6 92.9,200.6 99.0,195.8 105.0,190.5 111.1,185.4 114.1,183.3 117.1,181.6 118.6,181.1 121.6,180.8 124.7,180.6 126.2,180.7 129.2,181.4 132.2,182.6 133.7,183.7 138.3,188.1 139.8,189.8 144.3,195.5 148.9,201.6 153.4,206.7 156.4,209.6 159.5,211.6 162.5,213.1 165.5,214.3 170.0,215.7 173.1,216.4 176.1,216.9 185.2,217.7 212.4,219.4" stroke="#111" stroke-width="1.3" fill="none"/>
<g stroke="#4a4a4a" stroke-width="0.8" fill="none">
<line x1="32.4" y1="51.3" x2="32.4" y2="212.8" />
<line x1="32.4" y1="151.3" x2="212.4" y2="161.9" />
<line x1="212.4" y1="223.4" x2="254.0" y2="176.1" />
</g>
<line x1="32.4" y1="212.8" x2="212.4" y2="223.4" stroke="#6a6a6a" stroke-width="0.75"/>
<line x1="212.4" y1="161.9" x2="212.4" y2="223.4" stroke="#6a6a6a" stroke-width="0.8"/>
<line x1="212.4" y1="173.7" x2="254.0" y2="176.1" stroke="#aaa" stroke-width="0.5"/>
<line x1="96.5" y1="155.1" x2="96.5" y2="117.5" stroke="#555" stroke-width="0.7"/>
<circle cx="96.5" cy="155.1" r="1.4" fill="#111"/>
<circle cx="96.5" cy="117.5" r="1.1" fill="#aaa"/>
<line x1="96.5" y1="155.1" x2="114.3" y2="183.2" stroke="#333" stroke-width="0.6"/>
<circle cx="114.3" cy="183.2" r="1.7" fill="#e81010"/>
<g stroke="#4a4a4a" stroke-width="0.7">
<line x1="27.0" y1="122.9" x2="32.4" y2="122.9" />
<line x1="27.0" y1="94.5" x2="32.4" y2="94.5" />
<line x1="27.0" y1="66.1" x2="32.4" y2="66.1" />
<line x1="27.0" y1="151.3" x2="32.4" y2="151.3" />
<line x1="27.0" y1="170.4" x2="32.4" y2="170.4" />
<line x1="27.0" y1="189.5" x2="32.4" y2="189.5" />
<line x1="27.0" y1="208.6" x2="32.4" y2="208.6" />
<line x1="32.4" y1="212.8" x2="29.8" y2="216.1" />
<line x1="74.9" y1="215.3" x2="72.3" y2="218.6" />
<line x1="120.0" y1="218.0" x2="117.4" y2="221.3" />
<line x1="164.9" y1="220.6" x2="162.3" y2="223.9" />
<line x1="212.4" y1="223.4" x2="209.8" y2="226.7" />
<line x1="212.4" y1="223.4" x2="218.0" y2="223.4" />
<line x1="222.8" y1="211.6" x2="228.4" y2="211.6" />
<line x1="233.2" y1="199.8" x2="238.8" y2="199.8" />
<line x1="243.6" y1="187.9" x2="249.2" y2="187.9" />
<line x1="254.0" y1="176.1" x2="259.6" y2="176.1" />
</g>
<g fill="#1a1a1a">
<text x="24.2" y="126.0" font-size="10.0" text-anchor="middle">1</text>
<text x="24.2" y="97.6" font-size="10.0" text-anchor="middle">2</text>
<text x="24.2" y="69.2" font-size="10.0" text-anchor="middle">3</text>
<text x="23.8" y="154.9" font-size="10.0" text-anchor="middle">0</text>
<text x="23.8" y="174.0" font-size="10.0" text-anchor="middle">1</text>
<text x="23.8" y="193.1" font-size="10.0" text-anchor="middle">2</text>
<text x="23.8" y="212.2" font-size="10.0" text-anchor="middle">3</text>
<text x="26.6" y="223.8" font-size="10.0" text-anchor="middle">−5.0</text>
<text x="67.6" y="226.2" font-size="10.0" text-anchor="middle">−2.5</text>
<text x="116.4" y="229.1" font-size="10.0" text-anchor="middle">0.0</text>
<text x="162.0" y="231.8" font-size="10.0" text-anchor="middle">2.5</text>
<text x="209.8" y="234.6" font-size="10.0" text-anchor="middle">5.0</text>
<text x="222.4" y="228.2" font-size="10.0" text-anchor="middle">0</text>
<text x="235.8" y="216.4" font-size="10.0" text-anchor="middle">0.5</text>
<text x="246.2" y="204.5" font-size="10.0" text-anchor="middle">1.0</text>
<text x="256.6" y="192.7" font-size="10.0" text-anchor="middle">1.5</text>
<text x="267.0" y="180.9" font-size="10.0" text-anchor="middle">2.0</text>
<text x="115.4" y="242.3" font-size="10.5" text-anchor="middle">Midpoint [km]</text>
<text x="12.2" y="107.8" font-size="10.0" text-anchor="middle" transform="rotate(-90.00 12.2 107.8)">Time [s]</text>
<text x="12.2" y="184.2" font-size="10.0" text-anchor="middle" transform="rotate(-90.00 12.2 184.2)">Depth [km]</text>
<text x="233.0" y="239.0" font-size="10.0" text-anchor="start" transform="rotate(-43.50 233.0 239.0)">Half-offset [km]</text>
</g>
<g fill="#1a1a1a">
<text x="28.4" y="56.6" font-size="10.0" text-anchor="middle">t</text>
<text x="69.8" y="104.0" font-size="10.0" text-anchor="middle">h</text>
<text x="209.2" y="160.6" font-size="10.0" text-anchor="middle">x</text>
<text x="203.2" y="175.3" font-size="13.2" text-anchor="middle" style="stroke-width:0.35px">(a)</text>
<text x="90.2" y="121.4" font-size="10.0" text-anchor="middle">P</text>
<text class="s" x="92.9" y="122.2" font-size="4.5" fill="#888">0</text>
<text x="90.6" y="154.2" font-size="10.0" text-anchor="middle">x</text>
<text class="s" x="93.0" y="155.0" font-size="4.5" fill="#888">0</text>
<text x="101.4" y="155.0" font-size="10.0" text-anchor="middle">R</text>
<text class="s" x="105.2" y="150.6" font-size="4.5" fill="#888">ZO</text>
<text x="121.2" y="188.8" font-size="10.0" text-anchor="middle">R</text>
<text x="45.4" y="163.0" font-size="10.5" text-anchor="start" transform="rotate(40.50 45.4 163.0)">ZO isochrone</text>
<text x="108.8" y="34.0" font-size="10.2" text-anchor="start" transform="rotate(9.60 108.8 34.0)" letter-spacing="0.12" style="stroke-width:0.4px">MZO stacking surface</text>
</g>
<g stroke="#9a9a9a" stroke-width="0.5" fill="none">
<line x1="303.9" y1="51.3" x2="345.5" y2="4.0" />
<line x1="345.5" y1="4.0" x2="525.5" y2="14.6" />
<line x1="303.9" y1="51.3" x2="325.6" y2="52.6" />
<line x1="525.5" y1="14.6" x2="483.9" y2="61.9" />
<line x1="303.9" y1="151.3" x2="345.5" y2="104.0" />
<line x1="345.5" y1="104.0" x2="525.5" y2="114.6" />
<line x1="525.5" y1="114.6" x2="483.9" y2="161.9" />
</g>
<g stroke="#5e5e5e" stroke-width="0.7" fill="none">
<line x1="345.5" y1="4.0" x2="345.5" y2="153.9" />
<line x1="525.5" y1="14.6" x2="525.5" y2="176.1" />
<line x1="483.9" y1="61.9" x2="483.9" y2="161.9" />
</g>
<g stroke="#3a42c2" stroke-width="0.34" fill="none" stroke-linejoin="round">
<polyline points="304.0,81.0 329.9,82.6 335.3,83.1 338.6,83.5 335.6,82.3 332.2,80.4 328.7,77.9 325.2,74.9 344.8,95.3 353.0,103.7 361.2,111.5 368.5,117.9 371.9,120.6 375.2,123.0 378.5,125.1 381.3,126.6 384.0,127.9 386.8,128.8 389.5,129.5 392.2,129.8 394.7,129.8 397.5,129.5 400.0,128.9 402.9,128.0 405.9,126.8 408.8,125.3 411.9,123.6 415.3,121.4 422.4,116.3 430.6,109.6 438.4,102.8 458.1,85.2 455.7,86.9 453.0,88.4 450.6,89.5 448.4,90.1 451.9,90.0 457.6,90.1 483.8,91.6" />
<polyline points="305.0,79.8 330.9,81.4 336.4,81.9 339.7,82.3 336.7,81.2 333.3,79.2 329.7,76.7 326.2,73.7 345.8,94.1 354.0,102.5 362.2,110.3 369.5,116.7 372.9,119.4 376.2,121.8 379.5,123.9 382.3,125.4 385.1,126.7 387.8,127.6 390.5,128.3 393.2,128.6 395.7,128.6 398.6,128.3 401.1,127.7 404.0,126.8 406.9,125.6 409.9,124.1 412.9,122.4 416.4,120.2 423.4,115.1 431.7,108.4 439.5,101.6 459.2,84.0 456.7,85.7 454.1,87.2 451.6,88.3 449.5,88.9 453.0,88.8 458.7,88.9 484.9,90.4" />
<polyline points="306.1,78.6 332.0,80.2 337.4,80.7 340.7,81.1 337.8,80.0 334.3,78.0 330.7,75.5 327.2,72.5 346.8,92.9 355.0,101.2 363.2,109.1 370.5,115.5 373.9,118.1 377.2,120.5 380.5,122.6 383.3,124.2 386.1,125.4 388.8,126.4 391.6,127.0 394.3,127.3 396.7,127.3 399.6,127.0 402.1,126.5 405.1,125.6 408.0,124.3 411.0,122.9 414.0,121.1 417.5,118.9 424.5,113.8 432.8,107.1 440.6,100.3 460.2,82.8 457.8,84.5 455.1,86.0 452.7,87.1 450.5,87.7 454.0,87.6 459.7,87.7 485.9,89.2" />
<polyline points="307.1,77.4 333.0,79.0 338.5,79.4 341.7,79.9 338.8,78.7 335.3,76.8 331.7,74.2 328.2,71.2 347.8,91.6 356.0,99.9 364.2,107.8 371.5,114.2 374.8,116.8 378.2,119.2 381.5,121.3 384.3,122.8 387.1,124.1 389.8,125.0 392.6,125.7 395.3,126.0 397.8,126.0 400.7,125.7 403.2,125.2 406.2,124.2 409.1,123.0 412.1,121.6 415.1,119.8 418.6,117.6 425.6,112.5 433.9,105.8 441.7,99.1 461.3,81.6 458.8,83.3 456.2,84.8 453.7,85.9 451.6,86.5 455.1,86.3 460.8,86.5 486.9,88.0" />
<polyline points="308.1,76.1 334.0,77.7 339.5,78.2 342.7,78.6 339.8,77.5 336.3,75.5 332.7,73.0 329.2,69.9 348.7,90.3 356.9,98.6 365.1,106.4 372.4,112.8 375.8,115.4 379.1,117.8 382.4,119.9 385.2,121.5 388.0,122.7 390.8,123.7 393.6,124.3 396.4,124.6 398.9,124.6 401.8,124.3 404.3,123.8 407.3,122.9 410.2,121.7 413.2,120.2 416.3,118.5 419.8,116.3 426.8,111.2 435.0,104.5 442.8,97.8 462.4,80.3 459.9,82.0 457.3,83.5 454.8,84.6 452.6,85.2 456.1,85.1 461.8,85.3 488.0,86.7" />
<polyline points="309.2,74.9 335.1,76.4 340.5,76.9 343.8,77.4 340.8,76.2 337.3,74.2 333.7,71.7 330.1,68.6 349.7,88.9 357.8,97.2 366.5,105.5 373.8,111.8 377.1,114.4 380.5,116.7 383.8,118.8 386.6,120.3 389.5,121.5 392.3,122.4 395.1,123.0 397.4,123.2 399.9,123.2 402.9,122.9 405.4,122.4 408.4,121.5 411.4,120.3 414.4,118.8 417.5,117.1 420.9,114.9 428.0,109.8 436.2,103.2 444.0,96.4 463.5,79.0 461.1,80.7 458.4,82.2 455.9,83.3 453.7,83.9 457.1,83.8 462.8,84.0 489.0,85.4" />
<polyline points="310.2,73.6 336.1,75.1 341.6,75.6 344.8,76.1 341.8,74.9 338.3,72.9 334.6,70.3 331.1,67.3 350.1,87.1 358.7,95.8 367.4,104.0 374.6,110.3 378.0,112.9 381.4,115.3 384.7,117.3 387.6,118.8 390.4,120.0 393.2,120.9 396.1,121.5 398.4,121.8 401.0,121.8 404.0,121.5 406.6,120.9 409.6,120.0 412.6,118.8 415.6,117.3 418.7,115.6 422.2,113.4 429.2,108.4 437.4,101.8 445.2,95.1 464.7,77.7 462.2,79.4 459.5,80.9 457.0,82.0 454.8,82.7 458.2,82.5 463.9,82.7 490.1,84.2" />
<polyline points="311.3,72.3 337.2,73.8 342.6,74.3 345.8,74.8 342.7,73.6 339.2,71.6 335.6,69.0 332.0,65.9 351.0,85.7 359.6,94.4 368.2,102.6 375.5,108.8 378.8,111.4 382.2,113.8 385.6,115.8 388.4,117.3 391.3,118.5 394.2,119.4 397.1,120.0 399.5,120.3 402.1,120.3 405.1,120.0 407.7,119.4 410.8,118.5 413.8,117.3 416.9,115.8 419.9,114.1 423.4,111.9 430.4,106.9 438.6,100.3 446.4,93.6 465.8,76.4 463.3,78.1 460.6,79.6 458.1,80.7 455.8,81.3 459.2,81.2 464.9,81.4 491.1,82.8" />
<polyline points="312.3,70.9 338.2,72.5 343.5,73.0 346.8,73.4 343.7,72.2 340.2,70.2 336.5,67.6 332.9,64.5 351.8,84.2 360.4,92.9 369.0,101.0 376.3,107.3 379.6,109.8 383.0,112.2 386.4,114.2 389.3,115.7 392.2,116.9 395.1,117.9 398.1,118.5 400.5,118.7 403.2,118.7 406.3,118.4 408.9,117.9 412.0,117.0 415.1,115.8 418.1,114.3 421.2,112.6 424.7,110.4 431.7,105.4 439.9,98.9 447.6,92.2 467.0,75.0 464.5,76.8 461.8,78.3 459.2,79.4 456.9,80.0 460.3,79.9 466.0,80.1 492.1,81.5" />
<polyline points="313.3,69.6 339.1,71.2 344.6,71.6 347.8,72.1 344.7,70.9 341.1,68.8 337.4,66.2 333.8,63.1 352.7,82.7 361.2,91.3 369.8,99.5 377.0,105.7 380.4,108.2 383.8,110.6 387.2,112.6 390.1,114.1 393.1,115.3 396.1,116.3 399.1,116.9 401.6,117.1 404.3,117.1 407.4,116.8 410.1,116.3 413.2,115.4 416.3,114.2 419.4,112.7 422.5,111.0 426.0,108.9 433.0,103.9 441.2,97.3 448.9,90.7 468.2,73.6 465.6,75.4 462.9,76.9 460.3,78.0 458.0,78.7 461.4,78.6 467.1,78.7 493.2,80.2" />
<polyline points="314.4,68.2 340.1,69.8 345.6,70.3 348.8,70.7 345.6,69.5 342.0,67.4 338.3,64.8 334.6,61.7 353.4,81.2 361.9,89.8 370.5,97.8 377.8,104.0 381.2,106.6 384.6,108.9 388.0,111.0 391.0,112.4 394.0,113.7 397.0,114.6 400.1,115.2 402.6,115.5 405.4,115.5 408.6,115.2 411.3,114.7 414.5,113.8 417.6,112.6 420.7,111.1 423.8,109.4 427.3,107.3 434.3,102.3 442.5,95.8 450.2,89.2 469.4,72.2 466.8,74.0 464.1,75.5 461.4,76.7 459.1,77.3 462.5,77.2 468.2,77.4 494.2,78.8" />
<polyline points="315.4,66.8 341.2,68.4 346.5,68.9 349.8,69.3 346.6,68.1 342.9,66.0 339.2,63.4 335.5,60.2 354.2,79.6 362.7,88.2 371.2,96.2 378.5,102.3 381.9,104.9 385.3,107.2 388.8,109.3 391.8,110.8 394.8,112.0 397.9,112.9 401.0,113.6 403.7,113.8 406.5,113.8 409.8,113.5 412.6,113.0 415.8,112.1 418.9,110.9 422.1,109.4 425.2,107.8 428.7,105.6 435.7,100.7 443.8,94.2 451.9,87.4 470.7,70.7 468.0,72.6 465.2,74.1 462.5,75.3 460.1,75.9 463.5,75.8 469.2,76.0 495.3,77.4" />
<polyline points="316.5,65.4 342.2,67.0 347.6,67.5 350.8,67.9 349.2,67.4 347.5,66.6 343.8,64.6 340.0,61.9 336.3,58.7 355.0,78.0 363.4,86.5 371.9,94.5 379.2,100.6 382.6,103.2 386.0,105.5 389.5,107.5 392.5,109.0 395.6,110.3 398.8,111.2 402.0,111.8 404.7,112.1 407.6,112.1 411.0,111.8 413.8,111.3 417.1,110.4 420.3,109.2 423.4,107.7 426.5,106.1 430.1,103.9 437.1,99.1 445.2,92.6 453.2,85.8 471.9,69.3 469.2,71.1 466.4,72.7 463.6,73.9 461.2,74.5 464.7,74.4 470.4,74.6 496.3,76.0" />
<polyline points="317.5,64.0 343.1,65.6 348.5,66.0 351.8,66.5 348.5,65.2 344.8,63.2 340.9,60.4 337.1,57.2 355.7,76.4 364.1,84.8 372.6,92.8 379.8,98.8 383.2,101.4 386.7,103.7 390.2,105.7 393.3,107.2 396.4,108.5 399.7,109.4 403.0,110.1 405.7,110.4 408.7,110.4 411.7,110.2 414.6,109.7 417.9,108.8 421.2,107.6 424.4,106.2 427.5,104.6 431.0,102.5 438.0,97.7 446.6,91.0 454.6,84.2 473.2,67.8 470.5,69.7 467.6,71.2 464.8,72.4 462.3,73.1 465.7,73.0 471.4,73.2 497.3,74.6" />
<polyline points="318.5,62.6 344.2,64.1 349.5,64.6 352.8,65.0 351.2,64.5 349.4,63.8 345.7,61.7 341.7,58.9 337.9,55.7 356.4,74.8 365.2,83.6 373.7,91.5 377.6,94.7 380.9,97.4 384.4,99.9 387.9,102.2 390.9,103.9 394.0,105.4 397.2,106.7 400.5,107.6 403.9,108.3 406.8,108.6 409.9,108.6 412.9,108.4 415.9,107.9 419.3,107.0 422.6,105.9 425.8,104.5 428.9,102.8 432.5,100.8 436.0,98.5 439.5,96.0 448.0,89.3 455.9,82.6 474.5,66.3 471.7,68.2 468.7,69.8 465.9,71.0 463.4,71.6 466.9,71.5 472.5,71.7 498.4,73.2" />
<polyline points="319.6,61.1 345.2,62.7 350.6,63.1 353.8,63.6 352.2,63.1 350.3,62.3 346.5,60.2 342.5,57.4 338.7,54.1 357.1,73.1 365.9,81.8 374.3,89.7 378.2,92.9 381.6,95.6 385.0,98.1 388.5,100.3 391.6,102.1 394.7,103.6 398.0,104.8 401.4,105.8 404.9,106.5 407.8,106.8 411.0,106.8 414.1,106.6 417.2,106.1 420.6,105.2 424.0,104.1 427.2,102.7 430.4,101.1 433.9,99.0 437.5,96.7 440.9,94.2 449.4,87.6 457.3,80.9 475.8,64.8 473.0,66.7 469.9,68.3 467.1,69.5 464.5,70.2 467.9,70.1 473.6,70.3 499.4,71.7" />
<polyline points="320.6,59.6 346.1,61.2 351.5,61.6 354.7,62.1 353.1,61.6 351.3,60.8 347.4,58.7 343.3,55.9 339.4,52.6 357.7,71.4 366.5,80.1 374.9,87.8 378.8,91.1 382.2,93.7 385.6,96.2 389.1,98.5 392.7,100.5 396.0,101.9 399.3,103.2 402.2,104.0 405.8,104.6 408.9,104.9 412.1,105.0 415.4,104.7 418.5,104.3 422.0,103.4 425.4,102.2 428.7,100.8 431.9,99.2 435.4,97.2 438.9,94.9 442.4,92.5 450.9,85.9 458.8,79.2 477.1,63.2 474.2,65.2 471.2,66.8 468.3,68.0 465.7,68.7 469.1,68.6 474.7,68.8 500.5,70.2" />
<polyline points="321.7,58.2 347.2,59.7 352.5,60.1 355.7,60.6 354.1,60.1 352.2,59.3 348.2,57.1 344.1,54.3 340.2,50.9 358.4,69.6 367.1,78.3 375.5,86.0 379.3,89.2 382.7,91.8 386.2,94.3 389.7,96.6 393.4,98.5 396.7,100.0 400.1,101.3 403.1,102.1 406.8,102.8 409.9,103.1 413.3,103.1 416.6,102.9 419.8,102.4 423.4,101.5 426.8,100.4 430.1,99.0 433.3,97.4 436.9,95.3 440.4,93.1 443.9,90.7 452.3,84.2 460.2,77.5 478.4,61.6 475.5,63.6 472.4,65.3 469.4,66.5 466.8,67.2 470.1,67.1 475.8,67.3 501.5,68.7" />
<polyline points="322.7,56.6 348.2,58.2 353.5,58.6 356.7,59.0 355.0,58.5 353.1,57.7 349.0,55.5 344.9,52.7 340.9,49.3 359.0,67.9 367.7,76.4 376.1,84.1 379.9,87.3 383.3,89.9 386.7,92.4 390.3,94.6 394.0,96.6 397.3,98.1 400.8,99.3 403.9,100.2 407.7,100.9 411.0,101.2 414.4,101.2 417.9,101.0 421.1,100.5 424.3,99.8 427.8,98.7 431.2,97.3 434.4,95.8 438.0,93.8 441.5,91.5 445.0,89.2 453.4,82.7 461.7,75.8 479.7,60.0 476.8,62.0 473.7,63.7 470.6,65.0 467.9,65.7 471.3,65.6 476.9,65.8 502.5,67.2" />
<polyline points="323.7,55.1 349.1,56.7 354.5,57.1 357.7,57.5 355.9,57.0 354.0,56.2 349.8,54.0 345.7,51.1 341.6,47.7 359.6,66.1 368.2,74.6 372.8,78.9 377.1,82.6 380.9,85.7 384.3,88.3 387.8,90.8 391.4,93.0 394.6,94.6 398.0,96.1 401.6,97.4 404.7,98.2 408.6,98.9 412.0,99.2 415.6,99.3 419.1,99.1 422.5,98.6 425.7,97.9 429.3,96.8 432.7,95.4 435.9,93.9 439.6,91.9 443.1,89.7 446.5,87.3 454.9,80.9 463.1,74.1 481.1,58.4 478.1,60.5 474.9,62.2 471.8,63.5 469.0,64.2 472.3,64.1 477.9,64.3 503.6,65.7" />
<polyline points="324.8,53.6 350.1,55.1 355.4,55.5 358.6,56.0 356.9,55.4 354.9,54.6 350.8,52.4 346.4,49.4 342.3,46.0 359.8,63.8 368.8,72.7 373.4,77.0 377.6,80.7 381.4,83.8 384.8,86.4 388.3,88.8 391.9,91.0 395.2,92.7 398.6,94.2 402.3,95.4 405.5,96.3 409.6,97.0 413.0,97.3 416.8,97.4 420.4,97.1 423.9,96.7 427.1,95.9 430.8,94.8 434.2,93.5 437.5,91.9 441.1,90.0 444.6,87.8 448.1,85.4 451.9,82.6 456.5,79.1 464.6,72.3 482.5,56.8 479.4,58.9 476.1,60.7 472.9,61.9 470.1,62.6 473.5,62.5 479.1,62.7 504.6,64.2" />
<polyline points="325.8,52.0 351.1,53.6 356.4,54.0 359.6,54.4 357.8,53.9 355.8,53.0 351.6,50.8 347.2,47.8 343.0,44.3 360.3,62.0 369.3,70.8 373.9,75.0 378.1,78.7 381.9,81.8 385.3,84.4 388.8,86.8 392.4,89.0 395.7,90.6 399.2,92.1 403.0,93.4 406.3,94.3 410.5,95.0 414.1,95.3 417.9,95.4 421.7,95.2 425.2,94.7 428.6,94.0 432.3,92.9 435.7,91.5 439.1,90.0 442.7,88.0 446.2,85.9 449.7,83.5 453.5,80.8 458.0,77.3 466.5,70.2 483.9,55.1 480.8,57.2 477.4,59.1 474.1,60.4 471.2,61.0 474.6,61.0 480.1,61.2 505.7,62.6" />
<polyline points="326.9,50.4 352.1,52.0 357.4,52.4 360.6,52.8 358.7,52.2 356.6,51.4 352.4,49.2 347.9,46.1 343.7,42.6 360.9,60.1 369.8,68.9 374.4,73.1 378.6,76.7 382.4,79.8 385.8,82.4 389.3,84.7 393.0,86.9 396.3,88.6 399.8,90.1 403.7,91.4 407.1,92.3 411.4,93.0 415.1,93.4 419.1,93.4 423.0,93.2 426.6,92.7 430.1,92.0 433.3,91.1 436.8,89.8 440.2,88.3 443.8,86.3 447.4,84.2 450.8,81.9 454.6,79.2 459.2,75.7 467.7,68.7 485.3,53.5 482.1,55.6 478.7,57.4 475.4,58.8 472.4,59.5 475.7,59.4 481.3,59.6 506.7,61.0" />
<polyline points="327.9,48.8 353.0,50.4 358.4,50.8 361.5,51.2 359.7,50.7 357.6,49.8 355.4,48.8 353.1,47.5 348.6,44.4 344.3,40.9 361.8,58.6 370.8,67.3 375.3,71.5 379.5,75.1 383.3,78.2 386.7,80.7 390.3,83.0 394.0,85.2 397.4,86.8 401.0,88.3 405.0,89.5 408.6,90.4 412.3,91.0 416.2,91.3 419.6,91.4 423.6,91.3 427.4,90.8 431.0,90.1 434.8,89.1 438.4,87.8 441.8,86.3 445.4,84.4 449.0,82.3 452.4,80.0 456.2,77.3 460.8,73.8 469.2,66.9 486.7,51.8 483.5,54.0 480.0,55.8 476.6,57.1 473.5,57.9 476.9,57.8 482.5,58.0 507.7,59.4" />
<polyline points="328.9,47.2 354.0,48.8 359.3,49.2 362.5,49.6 360.6,49.0 358.4,48.2 356.1,47.1 353.9,45.8 349.3,42.7 344.9,39.1 362.4,56.7 371.3,65.4 375.8,69.5 379.9,73.1 383.8,76.1 387.2,78.6 390.7,80.9 394.5,83.1 397.9,84.7 401.6,86.2 405.7,87.5 409.3,88.3 413.2,89.0 417.2,89.3 420.8,89.4 424.9,89.3 428.8,88.8 432.5,88.1 436.4,87.1 440.0,85.8 443.4,84.3 447.1,82.4 450.6,80.3 454.1,78.0 457.9,75.3 462.4,71.9 470.8,65.0 488.2,50.1 484.8,52.3 481.3,54.2 477.8,55.5 474.6,56.3 478.0,56.2 483.5,56.4 508.8,57.8" />
<polyline points="330.0,45.6 355.0,47.1 360.2,47.6 363.4,47.9 361.5,47.4 359.4,46.6 357.1,45.5 354.8,44.2 350.1,41.1 345.6,37.3 362.9,54.8 371.7,63.4 376.2,67.5 380.4,71.0 384.2,74.0 387.6,76.5 391.2,78.9 395.0,81.0 398.4,82.7 402.2,84.1 406.3,85.4 410.1,86.3 414.1,86.9 418.3,87.3 422.0,87.4 426.3,87.2 430.3,86.8 434.0,86.1 437.4,85.2 441.1,84.0 444.5,82.5 448.2,80.6 451.8,78.6 455.7,76.1 459.5,73.4 464.0,70.0 472.4,63.1 489.6,48.3 486.1,50.7 482.5,52.6 478.9,53.9 475.8,54.6 479.1,54.6 484.7,54.8 509.8,56.2" />
<polyline points="331.0,44.0 356.0,45.5 361.2,45.9 364.4,46.3 362.5,45.7 360.2,44.9 357.8,43.8 355.5,42.5 350.8,39.3 346.2,35.5 363.4,52.9 372.6,61.8 377.1,65.8 381.3,69.4 385.1,72.3 388.5,74.8 392.1,77.1 396.0,79.2 399.5,80.8 403.4,82.3 407.0,83.3 410.9,84.2 415.0,84.8 419.3,85.2 423.1,85.3 427.6,85.2 431.7,84.7 435.5,84.1 439.0,83.2 442.7,81.9 446.2,80.5 449.9,78.6 453.5,76.6 457.4,74.1 461.1,71.4 465.6,68.0 474.3,61.0 491.1,46.6 487.6,48.9 483.8,50.9 480.2,52.3 476.9,53.0 480.2,53.0 485.7,53.1 510.9,54.6" />
<polyline points="332.1,42.3 356.9,43.8 365.3,44.6 363.3,44.1 361.0,43.2 358.6,42.1 356.3,40.8 351.5,37.6 349.0,35.7 346.8,33.7 363.8,50.9 373.0,59.8 377.5,63.8 381.7,67.3 385.5,70.2 388.9,72.7 392.6,74.9 396.4,77.0 400.0,78.7 404.0,80.2 407.6,81.2 411.6,82.1 415.9,82.8 420.4,83.2 424.3,83.3 428.9,83.1 433.1,82.7 437.0,82.0 440.5,81.1 444.3,79.9 447.8,78.4 451.6,76.6 455.1,74.5 459.0,72.1 462.8,69.4 467.2,66.1 475.9,59.1 492.5,44.8 489.0,47.2 485.2,49.2 481.4,50.6 478.0,51.3 481.4,51.3 486.9,51.5 511.9,52.9" />
<polyline points="333.1,40.7 357.9,42.2 366.3,42.9 364.2,42.4 361.8,41.5 359.4,40.3 357.0,39.0 352.1,35.8 349.6,33.9 347.4,31.9 364.3,48.9 373.5,57.7 377.9,61.7 382.1,65.2 385.9,68.1 389.3,70.5 393.0,72.8 396.9,74.9 400.5,76.6 404.5,78.0 408.2,79.1 412.3,80.0 416.8,80.7 421.4,81.1 425.5,81.2 430.3,81.1 433.9,80.7 437.9,80.1 441.6,79.2 445.4,78.0 449.0,76.6 452.8,74.8 456.4,72.8 460.3,70.3 464.0,67.7 468.5,64.4 477.2,57.4 494.0,43.1 490.5,45.4 486.5,47.5 482.6,48.9 479.2,49.7 482.5,49.6 488.0,49.8 512.9,51.2" />
<polyline points="334.1,39.0 358.8,40.5 367.2,41.2 365.1,40.7 362.7,39.8 360.3,38.6 357.7,37.2 355.2,35.7 352.6,33.9 347.9,30.0 364.8,46.9 373.9,55.7 378.3,59.6 382.5,63.1 386.3,66.0 389.7,68.4 393.4,70.7 397.3,72.8 401.0,74.4 405.1,75.9 408.9,77.0 413.1,77.9 417.6,78.6 422.5,79.0 426.7,79.1 431.6,79.0 435.4,78.6 439.5,78.0 443.2,77.1 447.1,75.9 450.6,74.5 454.5,72.7 458.1,70.7 462.0,68.3 465.7,65.7 470.2,62.4 478.8,55.5 495.5,41.3 491.8,43.8 487.8,45.8 483.9,47.2 480.3,48.0 483.6,48.0 489.1,48.2 514.0,49.6" />
<polyline points="335.2,37.3 359.9,38.8 368.2,39.5 366.1,39.0 363.7,38.1 361.2,37.0 358.5,35.6 356.0,34.0 353.4,32.2 350.9,30.2 348.5,28.2 365.2,44.9 374.3,53.6 378.7,57.5 382.9,60.9 386.6,63.8 390.6,66.6 394.3,68.8 398.3,70.9 402.1,72.5 405.6,73.7 409.5,74.8 413.8,75.7 418.5,76.4 423.5,76.9 427.9,77.0 433.0,76.9 436.8,76.5 441.0,75.9 444.8,75.0 448.7,73.8 452.3,72.4 456.2,70.6 459.8,68.6 463.7,66.2 467.4,63.7 471.8,60.4 480.4,53.6 497.1,39.5 493.2,42.0 489.1,44.0 485.1,45.5 481.5,46.3 484.8,46.3 490.3,46.5 515.0,47.9" />
<polyline points="336.2,35.6 360.8,37.1 369.1,37.8 366.9,37.2 364.4,36.3 361.9,35.2 359.2,33.8 356.7,32.2 354.0,30.4 351.4,28.4 349.0,26.3 365.6,42.9 374.7,51.5 379.1,55.4 383.2,58.8 387.0,61.7 391.0,64.4 394.7,66.6 398.7,68.7 402.5,70.3 406.1,71.6 410.0,72.7 414.5,73.6 419.4,74.3 424.5,74.8 429.1,74.9 434.3,74.8 438.3,74.4 442.6,73.8 446.4,72.9 450.4,71.7 454.0,70.3 457.9,68.5 461.5,66.6 465.4,64.2 469.1,61.7 473.5,58.4 482.1,51.6 498.6,37.6 494.7,40.2 490.5,42.3 486.4,43.8 484.4,44.3 482.6,44.6 485.9,44.5 491.3,44.8 516.1,46.2" />
<polyline points="337.3,33.8 361.7,35.3 370.1,36.1 367.8,35.5 365.2,34.5 362.6,33.4 359.9,31.9 357.3,30.4 354.6,28.5 352.0,26.5 349.6,24.4 366.0,40.9 375.1,49.4 379.5,53.3 383.6,56.7 387.4,59.5 391.3,62.2 395.1,64.5 399.1,66.5 403.0,68.1 406.6,69.4 410.6,70.5 415.2,71.4 420.2,72.2 425.6,72.6 430.3,72.8 434.9,72.7 439.0,72.4 443.5,71.8 447.4,71.0 451.5,69.8 455.2,68.4 459.1,66.7 462.8,64.7 466.7,62.4 470.4,59.9 474.8,56.7 483.7,49.6 500.1,35.8 496.1,38.4 491.9,40.5 487.7,42.0 485.6,42.5 483.8,42.8 487.1,42.8 492.5,43.0 517.1,44.4" />
<polyline points="338.3,32.1 362.7,33.6 371.0,34.3 368.7,33.7 366.0,32.7 363.3,31.6 360.6,30.1 357.9,28.5 355.2,26.7 352.6,24.6 350.1,22.5 366.5,38.8 375.9,47.7 380.3,51.5 384.4,54.9 388.2,57.7 392.2,60.4 396.0,62.6 400.1,64.6 404.1,66.2 407.8,67.4 412.1,68.5 416.9,69.4 422.2,70.1 426.6,70.5 431.6,70.6 436.2,70.6 440.5,70.3 445.0,69.7 449.0,68.8 453.2,67.7 456.9,66.3 460.8,64.6 464.5,62.6 468.4,60.3 472.1,57.8 476.5,54.7 485.4,47.6 501.7,34.0 497.6,36.6 493.2,38.8 488.9,40.3 486.8,40.8 484.9,41.1 493.7,41.3 518.1,42.7" />
<polyline points="339.3,30.4 363.6,31.8 372.0,32.6 369.6,32.0 366.9,31.0 364.2,29.8 361.4,28.4 358.5,26.7 355.8,24.8 353.1,22.7 350.6,20.6 366.9,36.7 376.2,45.5 380.6,49.4 384.7,52.7 388.5,55.5 392.6,58.2 396.3,60.4 400.5,62.4 404.5,64.0 408.3,65.2 412.7,66.3 417.6,67.3 423.1,68.0 427.7,68.3 432.8,68.5 437.6,68.4 442.0,68.1 446.6,67.5 450.7,66.7 454.9,65.5 458.6,64.2 462.6,62.5 466.2,60.5 470.1,58.2 473.9,55.8 478.2,52.6 487.1,45.6 503.2,32.1 499.1,34.8 494.6,37.0 490.1,38.6 488.0,39.1 486.1,39.3 494.7,39.6 519.2,40.9" />
<polyline points="340.4,28.6 364.7,30.1 372.9,30.8 370.4,30.2 367.6,29.2 364.9,28.0 362.1,26.5 359.2,24.8 356.4,22.9 353.6,20.7 351.1,18.6 367.3,34.7 376.6,43.4 381.0,47.2 385.1,50.5 388.9,53.3 392.9,56.0 396.7,58.1 400.9,60.2 404.9,61.8 408.8,63.0 413.2,64.1 418.3,65.1 424.0,65.8 428.7,66.2 434.0,66.4 439.0,66.3 443.5,66.0 448.2,65.4 452.4,64.6 456.0,63.6 459.8,62.3 463.8,60.6 467.5,58.7 471.4,56.4 475.6,53.7 480.0,50.5 488.8,43.6 504.8,30.2 500.6,33.0 496.0,35.2 493.7,36.1 491.4,36.8 489.1,37.3 487.2,37.6 495.9,37.8 520.2,39.2" />
<polyline points="341.4,26.8 365.6,28.3 373.8,29.0 371.4,28.4 368.5,27.4 365.6,26.1 362.7,24.7 359.8,22.9 356.9,21.0 354.1,18.8 351.6,16.7 368.0,32.9 377.4,41.6 381.7,45.4 385.9,48.7 389.7,51.4 393.7,54.1 397.6,56.2 401.9,58.2 406.1,59.8 410.1,61.0 414.8,62.1 419.0,62.9 424.8,63.6 429.8,64.0 435.2,64.2 440.4,64.1 445.0,63.8 449.8,63.2 454.0,62.4 457.7,61.4 461.6,60.1 465.6,58.4 469.3,56.6 473.2,54.3 477.3,51.6 481.7,48.5 490.5,41.6 506.4,28.3 502.1,31.1 497.4,33.4 495.1,34.3 492.7,35.0 490.4,35.5 488.4,35.8 497.1,36.0 521.3,37.4" />
<polyline points="342.5,25.0 366.5,26.5 374.8,27.2 372.2,26.6 369.3,25.6 366.3,24.3 363.4,22.8 360.3,21.0 357.5,19.1 354.6,16.9 352.1,14.7 368.4,30.8 377.7,39.5 382.1,43.2 386.2,46.5 390.0,49.2 394.1,51.8 397.9,54.0 402.3,56.0 406.5,57.6 410.6,58.8 415.3,59.9 419.7,60.7 425.7,61.4 430.8,61.8 436.5,62.0 441.8,62.0 446.5,61.7 451.4,61.1 455.7,60.3 459.4,59.3 463.3,58.0 467.3,56.3 471.0,54.4 474.9,52.2 479.1,49.5 483.4,46.4 492.2,39.6 508.0,26.4 505.9,27.9 503.6,29.2 501.1,30.5 498.7,31.6 496.4,32.5 493.9,33.2 491.6,33.7 489.5,34.0 498.1,34.2 522.3,35.6" />
<polyline points="343.5,23.2 367.5,24.7 375.7,25.4 373.1,24.7 370.2,23.8 367.1,22.5 364.2,21.0 361.1,19.2 358.2,17.3 355.3,15.0 352.6,12.8 368.8,28.7 378.0,37.3 382.4,41.0 386.5,44.3 390.3,47.0 394.4,49.6 398.3,51.7 402.6,53.7 406.9,55.3 411.1,56.6 415.9,57.7 420.3,58.5 426.6,59.3 431.9,59.7 437.7,59.9 443.2,59.8 448.0,59.5 452.3,59.0 456.7,58.2 460.6,57.3 464.5,56.0 468.6,54.4 472.3,52.5 476.3,50.3 480.4,47.6 484.8,44.6 493.9,37.5 509.6,24.5 507.5,26.0 505.1,27.4 502.6,28.7 500.2,29.8 497.8,30.6 495.3,31.4 492.9,31.9 490.7,32.2 499.3,32.4 523.3,33.8" />
<polyline points="344.5,21.4 368.4,22.9 376.6,23.5 373.9,22.9 370.9,21.9 367.8,20.6 364.8,19.1 361.7,17.3 358.8,15.3 355.8,13.1 353.0,10.8 369.1,26.6 378.3,35.1 382.7,38.8 386.8,42.0 390.6,44.8 394.7,47.4 398.6,49.5 403.0,51.5 407.3,53.1 411.5,54.3 416.4,55.5 421.0,56.3 427.4,57.1 432.9,57.5 439.0,57.7 444.6,57.6 449.5,57.3 453.9,56.9 458.4,56.1 462.3,55.1 466.3,53.8 470.4,52.2 474.1,50.4 478.1,48.2 482.2,45.5 486.6,42.5 495.6,35.5 511.2,22.6 509.0,24.1 506.6,25.5 504.1,26.8 501.6,27.9 499.0,28.9 496.5,29.6 494.1,30.1 491.8,30.4 500.4,30.6 524.4,32.0" />
<polyline points="345.6,19.6 369.4,21.0 377.6,21.7 374.7,21.0 371.6,20.0 368.5,18.7 365.4,17.2 362.3,15.3 359.3,13.4 356.3,11.1 353.5,8.8 369.5,24.4 379.1,33.3 383.4,37.0 387.5,40.2 391.4,42.9 395.5,45.4 399.5,47.5 403.3,49.2 407.7,50.8 412.0,52.1 417.0,53.2 421.7,54.0 428.3,54.9 434.0,55.3 440.2,55.5 446.0,55.5 451.1,55.2 455.5,54.7 460.1,53.9 464.0,53.0 468.0,51.7 472.1,50.0 475.9,48.2 479.8,46.0 484.0,43.4 488.3,40.4 497.3,33.4 512.8,20.7 510.6,22.2 508.0,23.7 505.5,25.0 502.9,26.1 500.3,27.0 497.7,27.8 495.2,28.3 493.0,28.6 501.5,28.8 525.4,30.2" />
</g>
<polyline points="423.7,115.2 428.9,111.0 435.2,105.6 458.1,85.2 474.5,66.3 500.1,35.8" stroke="#3a4cc4" stroke-width="9" fill="none" stroke-opacity="0.10" stroke-linecap="butt" transform="translate(-4.2,-1.6)"/>
<polyline points="423.7,115.2 428.9,111.0 435.2,105.6 458.1,85.2 477.1,63.2 508.0,26.4" stroke="#3a4cc4" stroke-width="5" fill="none" stroke-opacity="0.14" stroke-linecap="butt" transform="translate(-2.2,-0.8)"/>
<polyline points="423.7,115.2 428.9,111.0 435.2,105.6 458.1,85.2 478.4,61.6 512.8,20.7 517.0,19.3" stroke="#2b3db8" stroke-width="2.0" fill="none" stroke-opacity="0.5" stroke-linecap="butt" transform="translate(-0.4,-0.2)"/>
<polygon points="325.2,74.9 326.2,73.7 327.2,72.5 328.2,71.2 329.2,69.9 330.1,68.6 331.1,67.3 332.0,65.9 332.9,64.5 333.8,63.1 334.6,61.7 335.5,60.2 336.3,58.7 337.1,57.2 337.9,55.7 338.7,54.1 339.4,52.6 340.2,50.9 340.9,49.3 341.6,47.7 342.3,46.0 343.0,44.3 343.7,42.6 344.3,40.9 344.9,39.1 345.6,37.3 346.2,35.5 346.8,33.7 347.4,31.9 347.9,30.0 348.5,28.2 349.0,26.3 349.6,24.4 350.1,22.5 350.6,20.6 351.1,18.6 351.6,16.7 352.1,14.7 352.6,12.8 353.0,10.8 353.5,8.8 364.3,14.6 363.7,16.5 363.0,18.4 362.3,20.3 361.6,22.2 360.9,24.1 360.2,26.0 359.5,27.8 358.8,29.7 358.1,31.5 357.4,33.3 356.6,35.1 355.9,36.9 355.1,38.6 354.4,40.4 353.6,42.1 352.8,43.8 352.1,45.5 351.3,47.2 350.5,48.8 349.7,50.5 348.8,52.1 348.0,53.7 347.2,55.3 346.3,56.8 345.5,58.4 344.6,59.9 343.7,61.4 342.8,62.9 341.9,64.3 341.0,65.7 340.1,67.2 339.1,68.5 338.2,69.9 337.2,71.2 336.3,72.6 335.3,73.8 334.3,75.1 333.3,76.4 332.3,77.6 331.2,78.8" fill="#2b3db8" fill-opacity="0.16" stroke="none"/>
<polygon points="348.4,99.2 352.3,94.1 355.8,88.3 358.9,81.8 362.2,73.0 365.0,63.3 367.5,53.0 370.0,40.0 372.5,24.2 385.5,36.2 395.5,44.6 401.3,48.9 405.6,51.9 409.9,54.6 414.2,57.0 410.6,71.8 406.5,86.0 403.9,93.7 401.8,99.2 398.7,106.2 396.3,111.2 393.8,115.9 391.0,120.2 388.1,124.3 385.1,128.0 381.3,126.5 377.5,124.4 373.7,121.9 369.9,119.1 364.8,114.9 359.8,110.3 348.4,99.2" fill="#fff" stroke="none"/>
<g stroke="#1a9e3c" stroke-width="0.7" fill="none">
<polyline points="337.1,87.5 345.4,96.1 353.7,104.5 360.3,110.8 366.9,116.6 371.9,120.6 376.8,124.0 381.8,126.7 385.1,128.0" />
<polyline points="338.1,86.3 346.4,94.9 354.7,103.3 361.3,109.6 367.9,115.4 372.9,119.4 377.9,122.8 382.8,125.5 386.1,126.8" />
<polyline points="339.1,85.0 347.4,93.7 355.7,102.0 362.3,108.3 368.9,114.2 373.9,118.1 378.9,121.5 383.8,124.2 387.2,125.6" />
<polyline points="340.1,83.8 348.4,92.4 356.7,100.7 363.3,107.1 369.9,112.9 374.9,116.8 379.9,120.2 384.8,123.0 388.1,124.3" />
<polyline points="341.1,82.4 349.4,91.1 357.6,99.4 364.3,105.7 370.9,111.6 375.9,115.5 380.8,118.9 385.8,121.6 389.1,123.0" />
<polyline points="342.0,81.1 350.3,89.7 358.6,98.1 365.2,104.4 371.8,110.2 376.8,114.1 381.8,117.6 386.8,120.3 390.1,121.6" />
<polyline points="342.9,79.7 351.2,88.3 359.5,96.7 366.1,103.0 372.8,108.8 377.8,112.7 382.7,116.2 387.7,118.9 391.0,120.2" />
<polyline points="343.8,78.2 352.1,86.9 360.4,95.2 367.0,101.5 373.7,107.4 378.7,111.3 383.6,114.7 388.6,117.5 392.0,118.8" />
<polyline points="344.6,76.8 353.0,85.4 361.3,93.7 367.9,100.1 374.6,105.9 379.6,109.8 384.5,113.2 389.5,116.0 392.9,117.3" />
<polyline points="345.5,75.3 353.8,83.9 362.1,92.2 368.8,98.5 375.4,104.4 380.4,108.3 385.4,111.7 390.4,114.5 393.8,115.9" />
<polyline points="346.3,73.7 354.6,82.4 363.0,90.7 369.6,97.0 376.3,102.8 381.3,106.8 386.3,110.2 391.3,112.9 394.6,114.3" />
<polyline points="347.1,72.1 355.4,80.8 363.8,89.1 370.5,95.4 377.1,101.2 382.1,105.2 387.1,108.6 392.1,111.4 395.5,112.8" />
<polyline points="347.9,70.5 356.2,79.2 364.6,87.5 371.3,93.8 377.9,99.6 383.0,103.5 388.0,107.0 393.0,109.8 396.3,111.2" />
<polyline points="348.6,68.9 357.0,77.5 365.3,85.8 372.0,92.1 377.1,96.6 382.1,100.6 387.1,104.2 392.1,107.3 395.5,108.9 397.1,109.5" />
<polyline points="349.3,67.2 357.7,75.8 366.1,84.2 372.8,90.4 377.8,94.9 382.9,98.9 387.9,102.6 392.9,105.6 396.3,107.2 398.0,107.9" />
<polyline points="350.1,65.5 358.4,74.1 365.2,80.8 371.9,87.2 378.6,93.1 383.6,97.2 388.7,100.8 393.7,103.9 397.1,105.5 398.7,106.2" />
<polyline points="350.7,63.7 359.2,72.4 365.9,79.1 372.6,85.4 379.3,91.4 384.4,95.5 389.4,99.1 394.5,102.2 397.8,103.8 399.5,104.5" />
<polyline points="351.4,61.9 359.8,70.6 366.6,77.3 373.3,83.7 380.1,89.6 385.1,93.7 390.2,97.3 395.2,100.4 398.6,102.0 400.3,102.7" />
<polyline points="352.1,60.1 360.5,68.8 367.3,75.5 374.0,81.9 380.8,87.8 385.8,91.9 390.9,95.5 396.0,98.6 401.0,101.0" />
<polyline points="352.7,58.3 361.2,67.0 367.9,73.6 374.7,80.0 381.5,86.0 386.5,90.0 391.6,93.7 396.7,96.8 401.8,99.2" />
<polyline points="353.3,56.4 361.8,65.1 368.6,71.8 375.4,78.2 382.1,84.1 387.2,88.2 392.3,91.8 397.4,94.9 402.5,97.4" />
<polyline points="353.9,54.6 362.4,63.2 369.2,69.9 376.0,76.3 382.8,82.2 387.9,86.3 393.0,90.0 398.1,93.1 403.2,95.5" />
<polyline points="354.5,52.6 363.0,61.3 369.8,68.0 376.6,74.4 383.4,80.3 388.6,84.4 393.7,88.1 398.8,91.2 403.9,93.7" />
<polyline points="355.1,50.7 363.6,59.4 370.4,66.0 377.3,72.4 384.1,78.4 389.2,82.5 394.3,86.1 399.4,89.3 404.5,91.8" />
<polyline points="355.6,48.7 364.2,57.4 371.0,64.1 377.9,70.5 384.7,76.4 389.8,80.5 395.0,84.2 400.1,87.3 405.2,89.9" />
<polyline points="356.2,46.8 364.7,55.4 371.6,62.1 378.4,68.5 385.3,74.4 390.4,78.5 395.6,82.2 400.7,85.4 405.9,87.9" />
<polyline points="356.7,44.7 365.3,53.4 372.2,60.1 379.0,66.5 385.9,72.4 391.0,76.5 396.2,80.2 401.3,83.4 406.5,86.0" />
<polyline points="357.2,42.7 365.8,51.4 372.7,58.1 379.6,64.4 386.5,70.4 391.6,74.5 396.8,78.2 402.0,81.4 407.1,84.0" />
<polyline points="357.7,40.7 366.3,49.3 373.2,56.0 380.1,62.4 387.0,68.3 392.2,72.5 397.4,76.2 402.6,79.4 407.7,82.0" />
<polyline points="358.2,38.6 366.8,47.3 373.8,54.0 380.7,60.3 387.6,66.3 392.8,70.4 398.0,74.1 403.1,77.4 408.3,80.0" />
<polyline points="358.7,36.5 367.3,45.2 374.3,51.9 381.2,58.2 388.1,64.2 393.3,68.3 398.5,72.1 403.7,75.3 408.9,78.0" />
<polyline points="359.1,34.4 367.8,43.1 374.8,49.8 381.7,56.1 388.7,62.1 393.9,66.2 399.1,70.0 404.3,73.2 409.5,76.0" />
<polyline points="359.6,32.3 368.3,41.0 375.3,47.7 382.2,54.0 389.2,60.0 394.4,64.1 399.6,67.9 404.8,71.2 410.1,73.9" />
<polyline points="360.0,30.2 368.8,38.8 375.7,45.5 382.7,51.9 389.7,57.9 394.9,62.0 400.1,65.8 405.4,69.1 410.6,71.8" />
<polyline points="360.5,28.0 369.2,36.7 376.2,43.4 383.2,49.7 390.2,55.7 395.4,59.9 400.7,63.6 405.9,67.0 411.1,69.7" />
<polyline points="360.9,25.8 369.7,34.5 376.7,41.2 383.7,47.6 390.7,53.6 395.9,57.7 401.2,61.5 406.4,64.8 411.7,67.6" />
<polyline points="361.3,23.6 370.1,32.3 377.1,39.0 384.1,45.4 391.1,51.4 396.4,55.5 401.7,59.3 406.9,62.7 412.2,65.5" />
<polyline points="361.7,21.5 370.5,30.1 377.5,36.8 384.6,43.2 391.6,49.2 396.9,53.3 402.2,57.2 407.4,60.5 412.7,63.4" />
<polyline points="362.1,19.2 370.9,27.9 378.0,34.6 385.0,41.0 392.1,47.0 397.4,51.2 402.6,55.0 407.9,58.4 413.2,61.3" />
<polyline points="362.5,17.0 371.3,25.7 378.4,32.4 385.5,38.8 392.5,44.8 397.8,48.9 403.1,52.8 408.4,56.2 413.7,59.1" />
<polyline points="362.9,14.8 371.7,23.5 378.8,30.2 385.9,36.6 393.0,42.6 398.3,46.7 403.6,50.6 408.9,54.0 414.2,57.0" />
<polyline points="337.1,87.5 339.1,85.0 341.1,82.4 342.9,79.7 345.5,75.3 348.6,68.9 350.1,65.5 352.1,60.1 355.1,50.7 357.7,40.7 360.5,28.0 362.9,14.8" />
<polyline points="342.4,93.0 344.4,90.6 346.4,88.0 348.2,85.2 350.7,80.7 353.8,74.2 355.2,70.8 357.1,65.3 360.0,55.7 362.5,45.5 365.1,32.7 367.4,19.3" />
<polyline points="348.4,99.2 350.4,96.7 352.3,94.1 354.1,91.3 355.8,88.3 358.9,81.8 360.3,78.4 362.2,73.0 365.0,63.3 367.5,53.0 370.0,40.0 372.5,24.2" />
<polyline points="354.8,105.5 356.8,103.1 358.7,100.4 360.5,97.6 362.1,94.6 363.7,91.4 365.1,88.0 366.5,84.5 368.3,79.0 371.0,69.1 373.3,58.7 375.7,45.5 378.1,29.5" />
<polyline points="361.4,111.8 363.4,109.3 365.3,106.7 367.0,103.8 368.7,100.7 370.2,97.5 371.6,94.1 372.9,90.5 374.7,84.9 377.3,75.0 379.5,64.4 381.8,51.1 384.0,34.9" />
<polyline points="373.8,122.0 375.9,119.5 377.7,116.9 379.5,114.0 381.1,111.0 382.7,107.8 384.1,104.4 385.4,100.8 387.2,95.3 389.9,85.4 392.1,74.8 394.4,61.6 396.7,45.5" />
<polyline points="379.5,125.5 381.6,123.1 383.5,120.5 385.3,117.7 387.8,113.1 390.8,106.6 392.2,103.1 394.1,97.5 396.9,87.8 399.4,77.5 401.9,64.5 404.1,51.0" />
<polyline points="385.1,128.0 389.1,123.0 391.0,120.2 393.8,115.9 397.1,109.5 401.0,101.0 404.5,91.8 407.7,82.0 411.1,69.7 414.2,57.0" />
</g>
<g stroke="#10b020" stroke-width="1.5" fill="none">
<polyline points="368.0,117.6 370.0,115.1 371.9,112.4 373.7,109.5 375.3,106.5 376.8,103.2 378.2,99.8 379.5,96.2 381.3,90.6 383.8,80.6 386.0,70.0 388.2,56.6 390.4,40.4" />
</g>
<polygon points="303.9,151.3 483.9,161.9 483.9,223.4 303.9,212.8" fill="#dedede" stroke="none"/>
<line x1="303.9" y1="211.2" x2="483.9" y2="221.8" stroke="#ececec" stroke-width="0.9"/>
<line x1="482.6" y1="162.4" x2="482.6" y2="221.4" stroke="#ececec" stroke-width="0.8"/>
<g stroke="#808080" stroke-width="0.5" fill="none">
<line x1="335.0" y1="153.1" x2="385.3" y2="183.0" />
<line x1="340.0" y1="153.4" x2="385.3" y2="183.0" />
<line x1="345.0" y1="153.7" x2="385.3" y2="183.0" />
<line x1="350.0" y1="154.0" x2="385.3" y2="183.0" />
<line x1="355.0" y1="154.3" x2="385.3" y2="183.0" />
<line x1="360.0" y1="154.6" x2="385.3" y2="183.0" />
<line x1="365.0" y1="154.9" x2="385.3" y2="183.0" />
<line x1="370.0" y1="155.2" x2="385.3" y2="183.0" />
<line x1="375.0" y1="155.5" x2="385.3" y2="183.0" />
<line x1="380.0" y1="155.8" x2="385.3" y2="183.0" />
<line x1="385.0" y1="156.1" x2="385.3" y2="183.0" />
<line x1="390.0" y1="156.4" x2="385.3" y2="183.0" />
<line x1="395.0" y1="156.7" x2="385.3" y2="183.0" />
</g>
<line x1="368.0" y1="155.1" x2="368.0" y2="185.1" stroke="#8a8a8a" stroke-width="0.5"/>
<polyline points="303.9,210.3 313.0,211.0 322.1,211.4 334.2,211.8 341.7,211.9 343.2,211.8 346.3,211.4 350.8,210.5 352.3,210.1 356.8,208.2 361.4,205.7 364.4,203.6 367.4,201.2 370.5,198.5 373.5,195.4 379.5,188.4 382.6,185.4 385.6,182.8 388.6,181.0 390.1,180.2 391.6,179.7 393.1,179.4 396.2,179.2 397.7,179.6 399.2,180.6 402.2,183.2 406.8,188.2 409.8,191.8 417.3,202.5 420.4,206.1 421.9,207.7 424.9,210.5 426.4,211.7 427.9,212.8 431.0,214.4 435.5,216.3 438.5,217.3 443.1,218.2 449.1,219.2 453.6,219.7 459.7,220.2 483.9,221.6" stroke="#111" stroke-width="1.3" fill="none"/>
<g stroke="#4a4a4a" stroke-width="0.8" fill="none">
<line x1="303.9" y1="51.3" x2="303.9" y2="212.8" />
<line x1="303.9" y1="151.3" x2="483.9" y2="161.9" />
<line x1="483.9" y1="223.4" x2="525.5" y2="176.1" />
</g>
<line x1="303.9" y1="212.8" x2="483.9" y2="223.4" stroke="#6a6a6a" stroke-width="0.75"/>
<line x1="483.9" y1="161.9" x2="483.9" y2="223.4" stroke="#6a6a6a" stroke-width="0.8"/>
<line x1="483.9" y1="173.7" x2="525.5" y2="176.1" stroke="#aaa" stroke-width="0.5"/>
<line x1="368.0" y1="155.1" x2="368.0" y2="117.5" stroke="#555" stroke-width="0.7"/>
<circle cx="368.0" cy="155.1" r="1.4" fill="#111"/>
<circle cx="368.0" cy="117.5" r="1.1" fill="#aaa"/>
<line x1="368.0" y1="155.1" x2="385.3" y2="183.0" stroke="#333" stroke-width="0.7"/>
<path d="M377.9,211.7 A24.2,24.2 0 0 1 415.6,183.4" stroke="#3ec43e" stroke-width="1.1" fill="none" stroke-dasharray="3 2.2"/>
<polyline points="379.5,188.4 383.2,184.7 386.2,182.3 388.5,181.1 390.7,180.0 392.2,179.5 393.7,179.3" stroke="#f01010" stroke-width="2.0" fill="none"/>
<g stroke="#4a4a4a" stroke-width="0.7">
<line x1="298.5" y1="122.9" x2="303.9" y2="122.9" />
<line x1="298.5" y1="94.5" x2="303.9" y2="94.5" />
<line x1="298.5" y1="66.1" x2="303.9" y2="66.1" />
<line x1="298.5" y1="151.3" x2="303.9" y2="151.3" />
<line x1="298.5" y1="171.0" x2="303.9" y2="171.0" />
<line x1="298.5" y1="190.7" x2="303.9" y2="190.7" />
<line x1="298.5" y1="210.4" x2="303.9" y2="210.4" />
<line x1="303.9" y1="212.8" x2="301.3" y2="216.1" />
<line x1="346.4" y1="215.3" x2="343.8" y2="218.6" />
<line x1="391.5" y1="218.0" x2="388.9" y2="221.3" />
<line x1="436.4" y1="220.6" x2="433.8" y2="223.9" />
<line x1="483.9" y1="223.4" x2="481.3" y2="226.7" />
<line x1="483.9" y1="223.4" x2="489.5" y2="223.4" />
<line x1="494.3" y1="211.6" x2="499.9" y2="211.6" />
<line x1="504.7" y1="199.8" x2="510.3" y2="199.8" />
<line x1="515.1" y1="187.9" x2="520.7" y2="187.9" />
<line x1="525.5" y1="176.1" x2="531.1" y2="176.1" />
</g>
<g fill="#1a1a1a">
<text x="295.7" y="126.0" font-size="10.0" text-anchor="middle">1</text>
<text x="295.7" y="97.6" font-size="10.0" text-anchor="middle">2</text>
<text x="295.7" y="69.2" font-size="10.0" text-anchor="middle">3</text>
<text x="295.3" y="154.9" font-size="10.0" text-anchor="middle">0</text>
<text x="295.3" y="174.6" font-size="10.0" text-anchor="middle">1</text>
<text x="295.3" y="194.3" font-size="10.0" text-anchor="middle">2</text>
<text x="295.3" y="214.0" font-size="10.0" text-anchor="middle">3</text>
<text x="298.1" y="223.8" font-size="10.0" text-anchor="middle">−5.0</text>
<text x="339.1" y="226.2" font-size="10.0" text-anchor="middle">−2.5</text>
<text x="387.9" y="229.1" font-size="10.0" text-anchor="middle">0.0</text>
<text x="433.5" y="231.8" font-size="10.0" text-anchor="middle">2.5</text>
<text x="481.3" y="234.6" font-size="10.0" text-anchor="middle">5.0</text>
<text x="493.9" y="228.2" font-size="10.0" text-anchor="middle">0</text>
<text x="507.3" y="216.4" font-size="10.0" text-anchor="middle">0.5</text>
<text x="517.7" y="204.5" font-size="10.0" text-anchor="middle">1.0</text>
<text x="528.1" y="192.7" font-size="10.0" text-anchor="middle">1.5</text>
<text x="538.5" y="180.9" font-size="10.0" text-anchor="middle">2.0</text>
<text x="384.6" y="242.3" font-size="10.5" text-anchor="middle">Midpoint [km]</text>
<text x="283.7" y="107.8" font-size="10.0" text-anchor="middle" transform="rotate(-90.00 283.7 107.8)">Time [s]</text>
<text x="283.7" y="184.2" font-size="10.0" text-anchor="middle" transform="rotate(-90.00 283.7 184.2)">Depth [km]</text>
<text x="504.5" y="239.0" font-size="10.0" text-anchor="start" transform="rotate(-43.50 504.5 239.0)">Half-offset [km]</text>
</g>
<g fill="#1a1a1a">
<text x="299.9" y="56.6" font-size="10.0" text-anchor="middle">t</text>
<text x="341.3" y="104.0" font-size="10.0" text-anchor="middle">h</text>
<text x="480.7" y="160.6" font-size="10.0" text-anchor="middle">x</text>
<text x="474.7" y="175.3" font-size="13.2" text-anchor="middle" style="stroke-width:0.35px">(b)</text>
<text x="361.7" y="121.4" font-size="10.0" text-anchor="middle">P</text>
<text class="s" x="364.4" y="122.2" font-size="4.5" fill="#888">0</text>
<text x="362.1" y="154.2" font-size="10.0" text-anchor="middle">x</text>
<text class="s" x="364.5" y="155.0" font-size="4.5" fill="#888">0</text>
<text x="389.7" y="191.2" font-size="10.0" text-anchor="middle">R</text>
<text x="375.9" y="169.2" font-size="10.0" text-anchor="start" transform="rotate(-28.00 375.9 169.2)">R</text>
<text class="s" x="382.9" y="165.6" font-size="4.5" fill="#888" transform="rotate(-28 382.9 165.6)">NIP</text>
<text class="s" x="367.5" y="167.6" font-size="6" fill="#666" font-style="italic">α</text>
<text x="402.3" y="176.6" font-size="10.0" text-anchor="start">C</text>
<text class="s" x="409.1" y="178.0" font-size="4.5" fill="#888">R</text>
<text x="359.9" y="17.6" font-size="10.2" text-anchor="start" transform="rotate(29.50 359.9 17.6)" letter-spacing="0.1">CRS stacking surface</text>
</g>
</svg>
</body></html>
